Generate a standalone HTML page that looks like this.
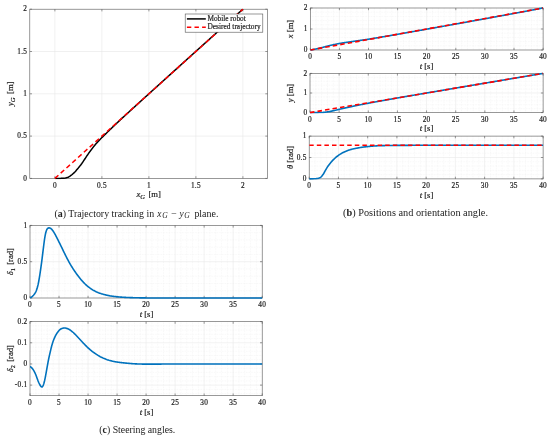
<!DOCTYPE html>
<html lang="en"><head><meta charset="utf-8"><title>Figure</title>
<style>html,body{margin:0;padding:0;background:#fff}svg{display:block}text{font-family:"Liberation Serif","DejaVu Serif",serif;fill:#1a1a1a;stroke:#1a1a1a;stroke-width:0.18px}text.cap{stroke:none;fill:#222}</style>
</head><body>
<svg width="550" height="440" viewBox="0 0 550 440">
<rect width="550" height="440" fill="#fff"/>
<defs>
<clipPath id="ca"><rect x="29.80" y="8.30" width="238.20" height="171.00"/></clipPath>
</defs>
<rect x="29.80" y="9.20" width="237.70" height="169.20" fill="#fff"/>
<line x1="54.90" y1="9.20" x2="54.90" y2="178.40" stroke="#e6e6e6" stroke-width="0.6"/>
<line x1="101.90" y1="9.20" x2="101.90" y2="178.40" stroke="#e6e6e6" stroke-width="0.6"/>
<line x1="148.90" y1="9.20" x2="148.90" y2="178.40" stroke="#e6e6e6" stroke-width="0.6"/>
<line x1="195.90" y1="9.20" x2="195.90" y2="178.40" stroke="#e6e6e6" stroke-width="0.6"/>
<line x1="242.90" y1="9.20" x2="242.90" y2="178.40" stroke="#e6e6e6" stroke-width="0.6"/>
<line x1="29.80" y1="136.10" x2="267.50" y2="136.10" stroke="#e6e6e6" stroke-width="0.6"/>
<line x1="29.80" y1="93.80" x2="267.50" y2="93.80" stroke="#e6e6e6" stroke-width="0.6"/>
<line x1="29.80" y1="51.50" x2="267.50" y2="51.50" stroke="#e6e6e6" stroke-width="0.6"/>
<text transform="translate(54.90,187.80) scale(1,1)" font-size="7.3" letter-spacing="0.25" text-anchor="middle">0</text>
<text transform="translate(101.90,187.80) scale(1,1)" font-size="7.3" letter-spacing="0.25" text-anchor="middle">0.5</text>
<text transform="translate(148.90,187.80) scale(1,1)" font-size="7.3" letter-spacing="0.25" text-anchor="middle">1</text>
<text transform="translate(195.90,187.80) scale(1,1)" font-size="7.3" letter-spacing="0.25" text-anchor="middle">1.5</text>
<text transform="translate(242.90,187.80) scale(1,1)" font-size="7.3" letter-spacing="0.25" text-anchor="middle">2</text>
<text transform="translate(27.20,180.60) scale(1,1)" font-size="7.3" letter-spacing="0.25" text-anchor="end">0</text>
<text transform="translate(27.20,138.30) scale(1,1)" font-size="7.3" letter-spacing="0.25" text-anchor="end">0.5</text>
<text transform="translate(27.20,96.00) scale(1,1)" font-size="7.3" letter-spacing="0.25" text-anchor="end">1</text>
<text transform="translate(27.20,53.70) scale(1,1)" font-size="7.3" letter-spacing="0.25" text-anchor="end">1.5</text>
<text transform="translate(27.20,11.40) scale(1,1)" font-size="7.3" letter-spacing="0.25" text-anchor="end">2</text>
<text x="148.65" y="197.40" font-size="8.6" text-anchor="middle"><tspan font-style="italic">x</tspan><tspan font-style="italic" font-size="6.6" dy="1.6">G</tspan><tspan dy="-1.6" font-size="6.6">&#8201;</tspan> [m]</text>
<text transform="translate(13.20,93.80) rotate(-90)" font-size="8.6" text-anchor="middle"><tspan font-style="italic">y</tspan><tspan font-style="italic" font-size="6.6" dy="1.6">G</tspan><tspan dy="-1.6" font-size="6.6">&#8201;</tspan> [m]</text>
<line x1="54.90" y1="178.40" x2="54.90" y2="176.20" stroke="#555" stroke-width="0.6"/>
<line x1="54.90" y1="9.20" x2="54.90" y2="11.40" stroke="#555" stroke-width="0.6"/>
<line x1="101.90" y1="178.40" x2="101.90" y2="176.20" stroke="#555" stroke-width="0.6"/>
<line x1="101.90" y1="9.20" x2="101.90" y2="11.40" stroke="#555" stroke-width="0.6"/>
<line x1="148.90" y1="178.40" x2="148.90" y2="176.20" stroke="#555" stroke-width="0.6"/>
<line x1="148.90" y1="9.20" x2="148.90" y2="11.40" stroke="#555" stroke-width="0.6"/>
<line x1="195.90" y1="178.40" x2="195.90" y2="176.20" stroke="#555" stroke-width="0.6"/>
<line x1="195.90" y1="9.20" x2="195.90" y2="11.40" stroke="#555" stroke-width="0.6"/>
<line x1="242.90" y1="178.40" x2="242.90" y2="176.20" stroke="#555" stroke-width="0.6"/>
<line x1="242.90" y1="9.20" x2="242.90" y2="11.40" stroke="#555" stroke-width="0.6"/>
<line x1="29.80" y1="178.40" x2="32.00" y2="178.40" stroke="#555" stroke-width="0.6"/>
<line x1="267.50" y1="178.40" x2="265.30" y2="178.40" stroke="#555" stroke-width="0.6"/>
<line x1="29.80" y1="136.10" x2="32.00" y2="136.10" stroke="#555" stroke-width="0.6"/>
<line x1="267.50" y1="136.10" x2="265.30" y2="136.10" stroke="#555" stroke-width="0.6"/>
<line x1="29.80" y1="93.80" x2="32.00" y2="93.80" stroke="#555" stroke-width="0.6"/>
<line x1="267.50" y1="93.80" x2="265.30" y2="93.80" stroke="#555" stroke-width="0.6"/>
<line x1="29.80" y1="51.50" x2="32.00" y2="51.50" stroke="#555" stroke-width="0.6"/>
<line x1="267.50" y1="51.50" x2="265.30" y2="51.50" stroke="#555" stroke-width="0.6"/>
<line x1="29.80" y1="9.20" x2="32.00" y2="9.20" stroke="#555" stroke-width="0.6"/>
<line x1="267.50" y1="9.20" x2="265.30" y2="9.20" stroke="#555" stroke-width="0.6"/>
<rect x="29.80" y="9.20" width="237.70" height="169.20" fill="none" stroke="#555" stroke-width="0.6"/>
<g clip-path="url(#ca)">
<polyline points="54.90,178.40 55.37,178.40 55.84,178.40 56.31,178.40 56.78,178.40 57.25,178.40 57.72,178.40 58.19,178.40 58.66,178.40 59.13,178.40 59.60,178.39 60.07,178.39 60.54,178.38 61.01,178.36 61.48,178.35 61.95,178.33 62.42,178.32 62.89,178.29 63.36,178.26 63.83,178.22 64.30,178.18 64.77,178.12 65.24,178.06 65.71,177.98 66.18,177.87 66.65,177.73 67.12,177.58 67.59,177.40 68.06,177.22 68.53,177.00 69.00,176.74 69.47,176.44 69.94,176.12 70.41,175.78 70.88,175.44 71.35,175.09 71.82,174.73 72.29,174.34 72.76,173.94 73.23,173.53 73.70,173.09 74.17,172.65 74.64,172.18 75.11,171.69 75.58,171.17 76.05,170.64 76.52,170.09 76.99,169.54 77.46,168.98 77.93,168.42 78.40,167.86 78.87,167.29 79.34,166.72 79.81,166.14 80.28,165.54 80.75,164.94 81.22,164.31 81.69,163.68 82.16,163.01 82.63,162.32 83.10,161.62 83.57,160.91 84.04,160.19 84.51,159.48 84.98,158.77 85.45,158.07 85.92,157.36 86.39,156.66 86.86,155.95 87.33,155.24 87.80,154.55 88.27,153.86 88.74,153.19 89.21,152.53 89.68,151.88 90.15,151.23 90.62,150.59 91.09,149.96 91.56,149.34 92.03,148.72 92.50,148.11 92.97,147.51 93.44,146.91 93.91,146.32 94.38,145.74 94.85,145.16 95.32,144.60 95.79,144.04 96.26,143.50 96.73,142.97 97.20,142.44 97.67,141.93 98.14,141.42 98.61,140.92 99.08,140.42 99.55,139.93 100.02,139.45 100.49,138.97 100.96,138.50 101.43,138.04 101.90,137.57 102.37,137.11 102.84,136.65 103.31,136.19 103.78,135.73 104.25,135.27 104.72,134.80 105.19,134.34 105.66,133.88 106.13,133.42 106.60,132.96 107.07,132.50 107.54,132.04 108.01,131.58 108.48,131.12 108.95,130.67 109.42,130.21 109.89,129.76 110.36,129.31 110.83,128.85 111.30,128.40 111.77,127.95 112.24,127.50 112.71,127.05 113.18,126.60 113.65,126.15 114.12,125.70 114.59,125.25 115.06,124.81 115.53,124.36 116.00,123.92 116.47,123.47 116.94,123.03 117.41,122.59 117.88,122.15 118.35,121.71 118.82,121.27 119.29,120.83 119.76,120.39 120.23,119.95 120.70,119.52 121.17,119.08 121.64,118.65 122.11,118.21 122.58,117.78 123.05,117.35 123.52,116.91 123.99,116.48 124.46,116.05 124.93,115.62 125.40,115.19 125.87,114.76 126.34,114.33 126.81,113.90 127.28,113.47 127.75,113.04 128.22,112.61 128.69,112.18 129.16,111.75 129.63,111.32 130.10,110.89 130.57,110.46 131.04,110.03 131.51,109.60 131.98,109.17 132.45,108.75 132.92,108.32 133.39,107.89 133.86,107.47 134.33,107.04 134.80,106.61 135.27,106.18 135.74,105.76 136.21,105.33 136.68,104.91 137.15,104.48 137.62,104.05 138.09,103.63 138.56,103.20 139.03,102.77 139.50,102.34 139.97,101.92 140.44,101.49 140.91,101.06 141.38,100.63 141.85,100.21 142.32,99.78 142.79,99.35 143.26,98.92 143.73,98.50 144.20,98.07 144.67,97.64 145.14,97.21 145.61,96.79 146.08,96.36 146.55,95.93 147.02,95.50 147.49,95.08 147.96,94.65 148.43,94.23 148.90,93.80 149.37,93.37 149.84,92.95 150.31,92.52 150.78,92.10 151.25,91.67 151.72,91.25 152.19,90.82 152.66,90.40 153.13,89.97 153.60,89.54 154.07,89.12 154.54,88.69 155.01,88.27 155.48,87.84 155.95,87.42 156.42,86.99 156.89,86.57 157.36,86.14 157.83,85.71 158.30,85.29 158.77,84.86 159.24,84.44 159.71,84.01 160.18,83.59 160.65,83.16 161.12,82.74 161.59,82.31 162.06,81.89 162.53,81.46 163.00,81.04 163.47,80.61 163.94,80.19 164.41,79.76 164.88,79.34 165.35,78.91 165.82,78.49 166.29,78.06 166.76,77.64 167.23,77.21 167.70,76.79 168.17,76.36 168.64,75.94 169.11,75.51 169.58,75.09 170.05,74.66 170.52,74.24 170.99,73.81 171.46,73.39 171.93,72.96 172.40,72.54 172.87,72.11 173.34,71.69 173.81,71.26 174.28,70.84 174.75,70.42 175.22,69.99 175.69,69.57 176.16,69.14 176.63,68.72 177.10,68.29 177.57,67.87 178.04,67.44 178.51,67.02 178.98,66.60 179.45,66.17 179.92,65.75 180.39,65.32 180.86,64.90 181.33,64.47 181.80,64.05 182.27,63.63 182.74,63.20 183.21,62.78 183.68,62.35 184.15,61.93 184.62,61.50 185.09,61.08 185.56,60.66 186.03,60.23 186.50,59.81 186.97,59.39 187.44,58.96 187.91,58.54 188.38,58.11 188.85,57.69 189.32,57.27 189.79,56.84 190.26,56.42 190.73,55.99 191.20,55.57 191.67,55.15 192.14,54.72 192.61,54.30 193.08,53.88 193.55,53.45 194.02,53.03 194.49,52.61 194.96,52.18 195.43,51.76 195.90,51.34 196.37,50.91 196.84,50.49 197.31,50.07 197.78,49.64 198.25,49.22 198.72,48.80 199.19,48.37 199.66,47.95 200.13,47.53 200.60,47.11 201.07,46.68 201.54,46.26 202.01,45.84 202.48,45.41 202.95,44.99 203.42,44.57 203.89,44.15 204.36,43.72 204.83,43.30 205.30,42.88 205.77,42.46 206.24,42.03 206.71,41.61 207.18,41.19 207.65,40.77 208.12,40.34 208.59,39.92 209.06,39.50 209.53,39.08 210.00,38.65 210.47,38.23 210.94,37.81 211.41,37.39 211.88,36.96 212.35,36.54 212.82,36.12 213.29,35.70 213.76,35.28 214.23,34.86 214.70,34.43 215.17,34.01 215.64,33.59 216.11,33.17 216.58,32.75 217.05,32.32 217.52,31.90 217.99,31.48 218.46,31.06 218.93,30.64 219.40,30.22 219.87,29.80 220.34,29.37 220.81,28.95 221.28,28.53 221.75,28.11 222.22,27.69 222.69,27.27 223.16,26.85 223.63,26.43 224.10,26.00 224.57,25.58 225.04,25.16 225.51,24.74 225.98,24.32 226.45,23.90 226.92,23.48 227.39,23.06 227.86,22.64 228.33,22.22 228.80,21.80 229.27,21.38 229.74,20.96 230.21,20.53 230.68,20.11 231.15,19.69 231.62,19.27 232.09,18.85 232.56,18.43 233.03,18.01 233.50,17.59 233.97,17.17 234.44,16.75 234.91,16.33 235.38,15.91 235.85,15.49 236.32,15.07 236.79,14.65 237.26,14.23 237.73,13.81 238.20,13.39 238.67,12.97 239.14,12.55 239.61,12.14 240.08,11.72 240.55,11.30 241.02,10.88 241.49,10.46 241.96,10.04 242.43,9.62 242.90,9.20" fill="none" stroke="#000" stroke-width="1.5" stroke-linejoin="round" />
<polyline points="54.90,178.40 242.90,9.20" fill="none" stroke="#ff0000" stroke-width="1.5" stroke-dasharray="4.7 3.1" stroke-linejoin="round" />
</g>
<rect x="185.2" y="14.0" width="77.60" height="18.20" fill="#fff" stroke="#555" stroke-width="0.6"/>
<line x1="186.9" y1="18.9" x2="205.8" y2="18.9" stroke="#000" stroke-width="1.5"/>
<line x1="186.9" y1="27.2" x2="205.8" y2="27.2" stroke="#ff0000" stroke-width="1.4" stroke-dasharray="4.4 3.2"/>
<text x="207.5" y="20.8" font-size="7.4" textLength="38.2" lengthAdjust="spacingAndGlyphs">Mobile robot</text>
<text x="207.5" y="28.9" font-size="7.4" textLength="53.2" lengthAdjust="spacingAndGlyphs">Desired trajectory</text>
<defs>
<clipPath id="cb1"><rect x="310.30" y="7.10" width="233.30" height="43.80"/></clipPath>
<clipPath id="cb2"><rect x="310.00" y="72.50" width="233.60" height="41.00"/></clipPath>
<clipPath id="cb3"><rect x="309.20" y="135.20" width="234.40" height="44.60"/></clipPath>
<clipPath id="cc1"><rect x="30.00" y="224.50" width="232.70" height="74.40"/></clipPath>
<clipPath id="cc2"><rect x="30.00" y="320.70" width="232.70" height="75.90"/></clipPath>
</defs>
<rect x="310.30" y="8.00" width="232.80" height="42.00" fill="#fff"/>
<line x1="316.12" y1="8.00" x2="316.12" y2="50.00" stroke="#eeeeee" stroke-width="0.5" stroke-dasharray="0.8 0.8"/>
<line x1="321.94" y1="8.00" x2="321.94" y2="50.00" stroke="#eeeeee" stroke-width="0.5" stroke-dasharray="0.8 0.8"/>
<line x1="327.76" y1="8.00" x2="327.76" y2="50.00" stroke="#eeeeee" stroke-width="0.5" stroke-dasharray="0.8 0.8"/>
<line x1="333.58" y1="8.00" x2="333.58" y2="50.00" stroke="#eeeeee" stroke-width="0.5" stroke-dasharray="0.8 0.8"/>
<line x1="345.22" y1="8.00" x2="345.22" y2="50.00" stroke="#eeeeee" stroke-width="0.5" stroke-dasharray="0.8 0.8"/>
<line x1="351.04" y1="8.00" x2="351.04" y2="50.00" stroke="#eeeeee" stroke-width="0.5" stroke-dasharray="0.8 0.8"/>
<line x1="356.86" y1="8.00" x2="356.86" y2="50.00" stroke="#eeeeee" stroke-width="0.5" stroke-dasharray="0.8 0.8"/>
<line x1="362.68" y1="8.00" x2="362.68" y2="50.00" stroke="#eeeeee" stroke-width="0.5" stroke-dasharray="0.8 0.8"/>
<line x1="374.32" y1="8.00" x2="374.32" y2="50.00" stroke="#eeeeee" stroke-width="0.5" stroke-dasharray="0.8 0.8"/>
<line x1="380.14" y1="8.00" x2="380.14" y2="50.00" stroke="#eeeeee" stroke-width="0.5" stroke-dasharray="0.8 0.8"/>
<line x1="385.96" y1="8.00" x2="385.96" y2="50.00" stroke="#eeeeee" stroke-width="0.5" stroke-dasharray="0.8 0.8"/>
<line x1="391.78" y1="8.00" x2="391.78" y2="50.00" stroke="#eeeeee" stroke-width="0.5" stroke-dasharray="0.8 0.8"/>
<line x1="403.42" y1="8.00" x2="403.42" y2="50.00" stroke="#eeeeee" stroke-width="0.5" stroke-dasharray="0.8 0.8"/>
<line x1="409.24" y1="8.00" x2="409.24" y2="50.00" stroke="#eeeeee" stroke-width="0.5" stroke-dasharray="0.8 0.8"/>
<line x1="415.06" y1="8.00" x2="415.06" y2="50.00" stroke="#eeeeee" stroke-width="0.5" stroke-dasharray="0.8 0.8"/>
<line x1="420.88" y1="8.00" x2="420.88" y2="50.00" stroke="#eeeeee" stroke-width="0.5" stroke-dasharray="0.8 0.8"/>
<line x1="432.52" y1="8.00" x2="432.52" y2="50.00" stroke="#eeeeee" stroke-width="0.5" stroke-dasharray="0.8 0.8"/>
<line x1="438.34" y1="8.00" x2="438.34" y2="50.00" stroke="#eeeeee" stroke-width="0.5" stroke-dasharray="0.8 0.8"/>
<line x1="444.16" y1="8.00" x2="444.16" y2="50.00" stroke="#eeeeee" stroke-width="0.5" stroke-dasharray="0.8 0.8"/>
<line x1="449.98" y1="8.00" x2="449.98" y2="50.00" stroke="#eeeeee" stroke-width="0.5" stroke-dasharray="0.8 0.8"/>
<line x1="461.62" y1="8.00" x2="461.62" y2="50.00" stroke="#eeeeee" stroke-width="0.5" stroke-dasharray="0.8 0.8"/>
<line x1="467.44" y1="8.00" x2="467.44" y2="50.00" stroke="#eeeeee" stroke-width="0.5" stroke-dasharray="0.8 0.8"/>
<line x1="473.26" y1="8.00" x2="473.26" y2="50.00" stroke="#eeeeee" stroke-width="0.5" stroke-dasharray="0.8 0.8"/>
<line x1="479.08" y1="8.00" x2="479.08" y2="50.00" stroke="#eeeeee" stroke-width="0.5" stroke-dasharray="0.8 0.8"/>
<line x1="490.72" y1="8.00" x2="490.72" y2="50.00" stroke="#eeeeee" stroke-width="0.5" stroke-dasharray="0.8 0.8"/>
<line x1="496.54" y1="8.00" x2="496.54" y2="50.00" stroke="#eeeeee" stroke-width="0.5" stroke-dasharray="0.8 0.8"/>
<line x1="502.36" y1="8.00" x2="502.36" y2="50.00" stroke="#eeeeee" stroke-width="0.5" stroke-dasharray="0.8 0.8"/>
<line x1="508.18" y1="8.00" x2="508.18" y2="50.00" stroke="#eeeeee" stroke-width="0.5" stroke-dasharray="0.8 0.8"/>
<line x1="519.82" y1="8.00" x2="519.82" y2="50.00" stroke="#eeeeee" stroke-width="0.5" stroke-dasharray="0.8 0.8"/>
<line x1="525.64" y1="8.00" x2="525.64" y2="50.00" stroke="#eeeeee" stroke-width="0.5" stroke-dasharray="0.8 0.8"/>
<line x1="531.46" y1="8.00" x2="531.46" y2="50.00" stroke="#eeeeee" stroke-width="0.5" stroke-dasharray="0.8 0.8"/>
<line x1="537.28" y1="8.00" x2="537.28" y2="50.00" stroke="#eeeeee" stroke-width="0.5" stroke-dasharray="0.8 0.8"/>
<line x1="310.30" y1="45.80" x2="543.10" y2="45.80" stroke="#eeeeee" stroke-width="0.5" stroke-dasharray="0.8 0.8"/>
<line x1="310.30" y1="41.60" x2="543.10" y2="41.60" stroke="#eeeeee" stroke-width="0.5" stroke-dasharray="0.8 0.8"/>
<line x1="310.30" y1="37.40" x2="543.10" y2="37.40" stroke="#eeeeee" stroke-width="0.5" stroke-dasharray="0.8 0.8"/>
<line x1="310.30" y1="33.20" x2="543.10" y2="33.20" stroke="#eeeeee" stroke-width="0.5" stroke-dasharray="0.8 0.8"/>
<line x1="310.30" y1="24.80" x2="543.10" y2="24.80" stroke="#eeeeee" stroke-width="0.5" stroke-dasharray="0.8 0.8"/>
<line x1="310.30" y1="20.60" x2="543.10" y2="20.60" stroke="#eeeeee" stroke-width="0.5" stroke-dasharray="0.8 0.8"/>
<line x1="310.30" y1="16.40" x2="543.10" y2="16.40" stroke="#eeeeee" stroke-width="0.5" stroke-dasharray="0.8 0.8"/>
<line x1="310.30" y1="12.20" x2="543.10" y2="12.20" stroke="#eeeeee" stroke-width="0.5" stroke-dasharray="0.8 0.8"/>
<line x1="339.40" y1="8.00" x2="339.40" y2="50.00" stroke="#eaeaea" stroke-width="0.6"/>
<line x1="368.50" y1="8.00" x2="368.50" y2="50.00" stroke="#eaeaea" stroke-width="0.6"/>
<line x1="397.60" y1="8.00" x2="397.60" y2="50.00" stroke="#eaeaea" stroke-width="0.6"/>
<line x1="426.70" y1="8.00" x2="426.70" y2="50.00" stroke="#eaeaea" stroke-width="0.6"/>
<line x1="455.80" y1="8.00" x2="455.80" y2="50.00" stroke="#eaeaea" stroke-width="0.6"/>
<line x1="484.90" y1="8.00" x2="484.90" y2="50.00" stroke="#eaeaea" stroke-width="0.6"/>
<line x1="514.00" y1="8.00" x2="514.00" y2="50.00" stroke="#eaeaea" stroke-width="0.6"/>
<line x1="310.30" y1="29.00" x2="543.10" y2="29.00" stroke="#eaeaea" stroke-width="0.6"/>
<text transform="translate(310.30,59.40) scale(1,1)" font-size="7.3" letter-spacing="0.25" text-anchor="middle">0</text>
<text transform="translate(339.40,59.40) scale(1,1)" font-size="7.3" letter-spacing="0.25" text-anchor="middle">5</text>
<text transform="translate(368.50,59.40) scale(1,1)" font-size="7.3" letter-spacing="0.25" text-anchor="middle">10</text>
<text transform="translate(397.60,59.40) scale(1,1)" font-size="7.3" letter-spacing="0.25" text-anchor="middle">15</text>
<text transform="translate(426.70,59.40) scale(1,1)" font-size="7.3" letter-spacing="0.25" text-anchor="middle">20</text>
<text transform="translate(455.80,59.40) scale(1,1)" font-size="7.3" letter-spacing="0.25" text-anchor="middle">25</text>
<text transform="translate(484.90,59.40) scale(1,1)" font-size="7.3" letter-spacing="0.25" text-anchor="middle">30</text>
<text transform="translate(514.00,59.40) scale(1,1)" font-size="7.3" letter-spacing="0.25" text-anchor="middle">35</text>
<text transform="translate(543.10,59.40) scale(1,1)" font-size="7.3" letter-spacing="0.25" text-anchor="middle">40</text>
<text transform="translate(307.70,52.20) scale(1,1)" font-size="7.3" letter-spacing="0.25" text-anchor="end">0</text>
<text transform="translate(307.70,31.20) scale(1,1)" font-size="7.3" letter-spacing="0.25" text-anchor="end">1</text>
<text transform="translate(307.70,10.20) scale(1,1)" font-size="7.3" letter-spacing="0.25" text-anchor="end">2</text>
<text x="426.50" y="68.80" font-size="8.6" text-anchor="middle"><tspan font-style="italic">t</tspan> [s]</text>
<text transform="translate(293.40,29.00) rotate(-90)" font-size="8.6" text-anchor="middle"><tspan font-style="italic">x</tspan> [m]</text>
<line x1="310.30" y1="50.00" x2="310.30" y2="47.80" stroke="#555" stroke-width="0.6"/>
<line x1="310.30" y1="8.00" x2="310.30" y2="10.20" stroke="#555" stroke-width="0.6"/>
<line x1="339.40" y1="50.00" x2="339.40" y2="47.80" stroke="#555" stroke-width="0.6"/>
<line x1="339.40" y1="8.00" x2="339.40" y2="10.20" stroke="#555" stroke-width="0.6"/>
<line x1="368.50" y1="50.00" x2="368.50" y2="47.80" stroke="#555" stroke-width="0.6"/>
<line x1="368.50" y1="8.00" x2="368.50" y2="10.20" stroke="#555" stroke-width="0.6"/>
<line x1="397.60" y1="50.00" x2="397.60" y2="47.80" stroke="#555" stroke-width="0.6"/>
<line x1="397.60" y1="8.00" x2="397.60" y2="10.20" stroke="#555" stroke-width="0.6"/>
<line x1="426.70" y1="50.00" x2="426.70" y2="47.80" stroke="#555" stroke-width="0.6"/>
<line x1="426.70" y1="8.00" x2="426.70" y2="10.20" stroke="#555" stroke-width="0.6"/>
<line x1="455.80" y1="50.00" x2="455.80" y2="47.80" stroke="#555" stroke-width="0.6"/>
<line x1="455.80" y1="8.00" x2="455.80" y2="10.20" stroke="#555" stroke-width="0.6"/>
<line x1="484.90" y1="50.00" x2="484.90" y2="47.80" stroke="#555" stroke-width="0.6"/>
<line x1="484.90" y1="8.00" x2="484.90" y2="10.20" stroke="#555" stroke-width="0.6"/>
<line x1="514.00" y1="50.00" x2="514.00" y2="47.80" stroke="#555" stroke-width="0.6"/>
<line x1="514.00" y1="8.00" x2="514.00" y2="10.20" stroke="#555" stroke-width="0.6"/>
<line x1="543.10" y1="50.00" x2="543.10" y2="47.80" stroke="#555" stroke-width="0.6"/>
<line x1="543.10" y1="8.00" x2="543.10" y2="10.20" stroke="#555" stroke-width="0.6"/>
<line x1="310.30" y1="50.00" x2="312.50" y2="50.00" stroke="#555" stroke-width="0.6"/>
<line x1="543.10" y1="50.00" x2="540.90" y2="50.00" stroke="#555" stroke-width="0.6"/>
<line x1="310.30" y1="29.00" x2="312.50" y2="29.00" stroke="#555" stroke-width="0.6"/>
<line x1="543.10" y1="29.00" x2="540.90" y2="29.00" stroke="#555" stroke-width="0.6"/>
<line x1="310.30" y1="8.00" x2="312.50" y2="8.00" stroke="#555" stroke-width="0.6"/>
<line x1="543.10" y1="8.00" x2="540.90" y2="8.00" stroke="#555" stroke-width="0.6"/>
<rect x="310.30" y="8.00" width="232.80" height="42.00" fill="none" stroke="#555" stroke-width="0.6"/>
<g clip-path="url(#cb1)">
<polyline points="310.30,50.00 310.88,49.94 311.46,49.88 312.05,49.80 312.63,49.59 313.21,49.49 313.79,49.39 314.37,49.28 314.96,49.17 315.54,49.05 316.12,48.93 316.70,48.81 317.28,48.69 317.87,48.56 318.45,48.42 319.03,48.29 319.61,48.15 320.19,48.01 320.78,47.87 321.36,47.72 321.94,47.57 322.52,47.42 323.10,47.27 323.69,47.11 324.27,46.96 324.85,46.80 325.43,46.64 326.01,46.48 326.60,46.33 327.18,46.17 327.76,46.02 328.34,45.88 328.92,45.73 329.51,45.59 330.09,45.45 330.67,45.31 331.25,45.18 331.83,45.04 332.42,44.91 333.00,44.78 333.58,44.65 334.16,44.53 334.74,44.41 335.33,44.29 335.91,44.17 336.49,44.05 337.07,43.94 337.65,43.82 338.24,43.71 338.82,43.61 339.40,43.50 339.98,43.40 340.56,43.30 341.15,43.20 341.73,43.10 342.31,43.01 342.89,42.91 343.47,42.82 344.06,42.73 344.64,42.64 345.22,42.55 345.80,42.46 346.38,42.37 346.97,42.28 347.55,42.20 348.13,42.11 348.71,42.03 349.29,41.94 349.88,41.86 350.46,41.78 351.04,41.69 351.62,41.61 352.20,41.53 352.79,41.44 353.37,41.36 353.95,41.28 354.53,41.20 355.11,41.11 355.70,41.03 356.28,40.95 356.86,40.86 357.44,40.78 358.02,40.70 358.61,40.62 359.19,40.53 359.77,40.45 360.35,40.37 360.93,40.28 361.52,40.20 362.10,40.12 362.68,40.04 363.26,39.95 363.84,39.87 364.43,39.79 365.01,39.70 365.59,39.62 366.17,39.53 366.75,39.44 367.34,39.36 367.92,39.27 368.50,39.18 369.08,39.09 369.66,39.00 370.25,38.91 370.83,38.82 371.41,38.73 371.99,38.63 372.57,38.54 373.16,38.45 373.74,38.35 374.32,38.26 374.90,38.16 375.48,38.07 376.07,37.97 376.65,37.88 377.23,37.78 377.81,37.68 378.39,37.59 378.98,37.49 379.56,37.39 380.14,37.29 380.72,37.20 381.30,37.10 381.89,37.00 382.47,36.90 383.05,36.80 383.63,36.71 384.21,36.61 384.80,36.51 385.38,36.41 385.96,36.31 386.54,36.21 387.12,36.11 387.71,36.01 388.29,35.91 388.87,35.81 389.45,35.70 390.03,35.60 390.62,35.50 391.20,35.40 391.78,35.30 392.36,35.20 392.94,35.10 393.53,35.00 394.11,34.89 394.69,34.79 395.27,34.69 395.85,34.59 396.44,34.49 397.02,34.39 397.60,34.28 398.18,34.18 398.76,34.08 399.35,33.98 399.93,33.88 400.51,33.77 401.09,33.67 401.67,33.57 402.26,33.47 402.84,33.37 403.42,33.27 404.00,33.16 404.58,33.06 405.17,32.96 405.75,32.86 406.33,32.76 406.91,32.65 407.49,32.55 408.08,32.45 408.66,32.35 409.24,32.25 409.82,32.14 410.40,32.04 410.99,31.94 411.57,31.84 412.15,31.73 412.73,31.63 413.31,31.53 413.90,31.43 414.48,31.33 415.06,31.22 415.64,31.12 416.22,31.02 416.81,30.92 417.39,30.81 417.97,30.71 418.55,30.61 419.13,30.51 419.72,30.40 420.30,30.30 420.88,30.20 421.46,30.10 422.04,29.99 422.63,29.89 423.21,29.79 423.79,29.69 424.37,29.58 424.95,29.48 425.54,29.38 426.12,29.28 426.70,29.17 427.28,29.07 427.86,28.97 428.45,28.87 429.03,28.76 429.61,28.66 430.19,28.56 430.77,28.45 431.36,28.35 431.94,28.25 432.52,28.15 433.10,28.04 433.68,27.94 434.27,27.84 434.85,27.73 435.43,27.63 436.01,27.53 436.59,27.42 437.18,27.32 437.76,27.22 438.34,27.11 438.92,27.01 439.50,26.91 440.09,26.81 440.67,26.70 441.25,26.60 441.83,26.50 442.41,26.39 443.00,26.29 443.58,26.18 444.16,26.08 444.74,25.98 445.32,25.87 445.91,25.77 446.49,25.67 447.07,25.56 447.65,25.46 448.23,25.36 448.82,25.25 449.40,25.15 449.98,25.05 450.56,24.94 451.14,24.84 451.73,24.73 452.31,24.63 452.89,24.53 453.47,24.42 454.05,24.32 454.64,24.21 455.22,24.11 455.80,24.01 456.38,23.90 456.96,23.80 457.55,23.69 458.13,23.59 458.71,23.49 459.29,23.38 459.87,23.28 460.46,23.17 461.04,23.07 461.62,22.96 462.20,22.86 462.78,22.76 463.37,22.65 463.95,22.55 464.53,22.44 465.11,22.34 465.69,22.23 466.28,22.13 466.86,22.02 467.44,21.92 468.02,21.82 468.60,21.71 469.19,21.61 469.77,21.50 470.35,21.40 470.93,21.29 471.51,21.19 472.10,21.08 472.68,20.98 473.26,20.87 473.84,20.77 474.42,20.66 475.01,20.56 475.59,20.45 476.17,20.35 476.75,20.24 477.33,20.14 477.92,20.03 478.50,19.93 479.08,19.82 479.66,19.72 480.24,19.61 480.83,19.50 481.41,19.40 481.99,19.29 482.57,19.19 483.15,19.08 483.74,18.98 484.32,18.87 484.90,18.77 485.48,18.66 486.06,18.55 486.65,18.45 487.23,18.34 487.81,18.24 488.39,18.13 488.97,18.03 489.56,17.92 490.14,17.81 490.72,17.71 491.30,17.60 491.88,17.50 492.47,17.39 493.05,17.28 493.63,17.18 494.21,17.07 494.79,16.96 495.38,16.86 495.96,16.75 496.54,16.65 497.12,16.54 497.70,16.43 498.29,16.33 498.87,16.22 499.45,16.11 500.03,16.01 500.61,15.90 501.20,15.79 501.78,15.69 502.36,15.58 502.94,15.47 503.52,15.37 504.11,15.26 504.69,15.15 505.27,15.04 505.85,14.94 506.43,14.83 507.02,14.72 507.60,14.62 508.18,14.51 508.76,14.40 509.34,14.30 509.93,14.19 510.51,14.08 511.09,13.97 511.67,13.87 512.25,13.76 512.84,13.65 513.42,13.54 514.00,13.44 514.58,13.33 515.16,13.22 515.75,13.11 516.33,13.00 516.91,12.90 517.49,12.79 518.07,12.68 518.66,12.57 519.24,12.47 519.82,12.36 520.40,12.25 520.98,12.14 521.57,12.03 522.15,11.92 522.73,11.82 523.31,11.71 523.89,11.60 524.48,11.49 525.06,11.38 525.64,11.27 526.22,11.17 526.80,11.06 527.39,10.95 527.97,10.84 528.55,10.73 529.13,10.62 529.71,10.51 530.30,10.41 530.88,10.30 531.46,10.19 532.04,10.08 532.62,9.97 533.21,9.86 533.79,9.75 534.37,9.64 534.95,9.53 535.53,9.42 536.12,9.31 536.70,9.21 537.28,9.10 537.86,8.95 538.44,8.84 539.03,8.73 539.61,8.63 540.19,8.52 540.77,8.42 541.35,8.31 541.94,8.21 542.52,8.10 543.10,8.00" fill="none" stroke="#0072bd" stroke-width="1.6" stroke-linejoin="round" />
<polyline points="310.30,50.00 543.10,8.00" fill="none" stroke="#ff0000" stroke-width="1.6" stroke-dasharray="4.5 3.1" stroke-linejoin="round" />
</g>
<rect x="310.00" y="73.40" width="233.10" height="39.20" fill="#fff"/>
<line x1="315.83" y1="73.40" x2="315.83" y2="112.60" stroke="#eeeeee" stroke-width="0.5" stroke-dasharray="0.8 0.8"/>
<line x1="321.65" y1="73.40" x2="321.65" y2="112.60" stroke="#eeeeee" stroke-width="0.5" stroke-dasharray="0.8 0.8"/>
<line x1="327.48" y1="73.40" x2="327.48" y2="112.60" stroke="#eeeeee" stroke-width="0.5" stroke-dasharray="0.8 0.8"/>
<line x1="333.31" y1="73.40" x2="333.31" y2="112.60" stroke="#eeeeee" stroke-width="0.5" stroke-dasharray="0.8 0.8"/>
<line x1="344.97" y1="73.40" x2="344.97" y2="112.60" stroke="#eeeeee" stroke-width="0.5" stroke-dasharray="0.8 0.8"/>
<line x1="350.79" y1="73.40" x2="350.79" y2="112.60" stroke="#eeeeee" stroke-width="0.5" stroke-dasharray="0.8 0.8"/>
<line x1="356.62" y1="73.40" x2="356.62" y2="112.60" stroke="#eeeeee" stroke-width="0.5" stroke-dasharray="0.8 0.8"/>
<line x1="362.45" y1="73.40" x2="362.45" y2="112.60" stroke="#eeeeee" stroke-width="0.5" stroke-dasharray="0.8 0.8"/>
<line x1="374.10" y1="73.40" x2="374.10" y2="112.60" stroke="#eeeeee" stroke-width="0.5" stroke-dasharray="0.8 0.8"/>
<line x1="379.93" y1="73.40" x2="379.93" y2="112.60" stroke="#eeeeee" stroke-width="0.5" stroke-dasharray="0.8 0.8"/>
<line x1="385.76" y1="73.40" x2="385.76" y2="112.60" stroke="#eeeeee" stroke-width="0.5" stroke-dasharray="0.8 0.8"/>
<line x1="391.59" y1="73.40" x2="391.59" y2="112.60" stroke="#eeeeee" stroke-width="0.5" stroke-dasharray="0.8 0.8"/>
<line x1="403.24" y1="73.40" x2="403.24" y2="112.60" stroke="#eeeeee" stroke-width="0.5" stroke-dasharray="0.8 0.8"/>
<line x1="409.07" y1="73.40" x2="409.07" y2="112.60" stroke="#eeeeee" stroke-width="0.5" stroke-dasharray="0.8 0.8"/>
<line x1="414.89" y1="73.40" x2="414.89" y2="112.60" stroke="#eeeeee" stroke-width="0.5" stroke-dasharray="0.8 0.8"/>
<line x1="420.72" y1="73.40" x2="420.72" y2="112.60" stroke="#eeeeee" stroke-width="0.5" stroke-dasharray="0.8 0.8"/>
<line x1="432.38" y1="73.40" x2="432.38" y2="112.60" stroke="#eeeeee" stroke-width="0.5" stroke-dasharray="0.8 0.8"/>
<line x1="438.21" y1="73.40" x2="438.21" y2="112.60" stroke="#eeeeee" stroke-width="0.5" stroke-dasharray="0.8 0.8"/>
<line x1="444.03" y1="73.40" x2="444.03" y2="112.60" stroke="#eeeeee" stroke-width="0.5" stroke-dasharray="0.8 0.8"/>
<line x1="449.86" y1="73.40" x2="449.86" y2="112.60" stroke="#eeeeee" stroke-width="0.5" stroke-dasharray="0.8 0.8"/>
<line x1="461.51" y1="73.40" x2="461.51" y2="112.60" stroke="#eeeeee" stroke-width="0.5" stroke-dasharray="0.8 0.8"/>
<line x1="467.34" y1="73.40" x2="467.34" y2="112.60" stroke="#eeeeee" stroke-width="0.5" stroke-dasharray="0.8 0.8"/>
<line x1="473.17" y1="73.40" x2="473.17" y2="112.60" stroke="#eeeeee" stroke-width="0.5" stroke-dasharray="0.8 0.8"/>
<line x1="479.00" y1="73.40" x2="479.00" y2="112.60" stroke="#eeeeee" stroke-width="0.5" stroke-dasharray="0.8 0.8"/>
<line x1="490.65" y1="73.40" x2="490.65" y2="112.60" stroke="#eeeeee" stroke-width="0.5" stroke-dasharray="0.8 0.8"/>
<line x1="496.48" y1="73.40" x2="496.48" y2="112.60" stroke="#eeeeee" stroke-width="0.5" stroke-dasharray="0.8 0.8"/>
<line x1="502.31" y1="73.40" x2="502.31" y2="112.60" stroke="#eeeeee" stroke-width="0.5" stroke-dasharray="0.8 0.8"/>
<line x1="508.13" y1="73.40" x2="508.13" y2="112.60" stroke="#eeeeee" stroke-width="0.5" stroke-dasharray="0.8 0.8"/>
<line x1="519.79" y1="73.40" x2="519.79" y2="112.60" stroke="#eeeeee" stroke-width="0.5" stroke-dasharray="0.8 0.8"/>
<line x1="525.62" y1="73.40" x2="525.62" y2="112.60" stroke="#eeeeee" stroke-width="0.5" stroke-dasharray="0.8 0.8"/>
<line x1="531.45" y1="73.40" x2="531.45" y2="112.60" stroke="#eeeeee" stroke-width="0.5" stroke-dasharray="0.8 0.8"/>
<line x1="537.27" y1="73.40" x2="537.27" y2="112.60" stroke="#eeeeee" stroke-width="0.5" stroke-dasharray="0.8 0.8"/>
<line x1="310.00" y1="108.68" x2="543.10" y2="108.68" stroke="#eeeeee" stroke-width="0.5" stroke-dasharray="0.8 0.8"/>
<line x1="310.00" y1="104.76" x2="543.10" y2="104.76" stroke="#eeeeee" stroke-width="0.5" stroke-dasharray="0.8 0.8"/>
<line x1="310.00" y1="100.84" x2="543.10" y2="100.84" stroke="#eeeeee" stroke-width="0.5" stroke-dasharray="0.8 0.8"/>
<line x1="310.00" y1="96.92" x2="543.10" y2="96.92" stroke="#eeeeee" stroke-width="0.5" stroke-dasharray="0.8 0.8"/>
<line x1="310.00" y1="89.08" x2="543.10" y2="89.08" stroke="#eeeeee" stroke-width="0.5" stroke-dasharray="0.8 0.8"/>
<line x1="310.00" y1="85.16" x2="543.10" y2="85.16" stroke="#eeeeee" stroke-width="0.5" stroke-dasharray="0.8 0.8"/>
<line x1="310.00" y1="81.24" x2="543.10" y2="81.24" stroke="#eeeeee" stroke-width="0.5" stroke-dasharray="0.8 0.8"/>
<line x1="310.00" y1="77.32" x2="543.10" y2="77.32" stroke="#eeeeee" stroke-width="0.5" stroke-dasharray="0.8 0.8"/>
<line x1="339.14" y1="73.40" x2="339.14" y2="112.60" stroke="#eaeaea" stroke-width="0.6"/>
<line x1="368.27" y1="73.40" x2="368.27" y2="112.60" stroke="#eaeaea" stroke-width="0.6"/>
<line x1="397.41" y1="73.40" x2="397.41" y2="112.60" stroke="#eaeaea" stroke-width="0.6"/>
<line x1="426.55" y1="73.40" x2="426.55" y2="112.60" stroke="#eaeaea" stroke-width="0.6"/>
<line x1="455.69" y1="73.40" x2="455.69" y2="112.60" stroke="#eaeaea" stroke-width="0.6"/>
<line x1="484.83" y1="73.40" x2="484.83" y2="112.60" stroke="#eaeaea" stroke-width="0.6"/>
<line x1="513.96" y1="73.40" x2="513.96" y2="112.60" stroke="#eaeaea" stroke-width="0.6"/>
<line x1="310.00" y1="93.00" x2="543.10" y2="93.00" stroke="#eaeaea" stroke-width="0.6"/>
<text transform="translate(310.00,122.00) scale(1,1)" font-size="7.3" letter-spacing="0.25" text-anchor="middle">0</text>
<text transform="translate(339.14,122.00) scale(1,1)" font-size="7.3" letter-spacing="0.25" text-anchor="middle">5</text>
<text transform="translate(368.27,122.00) scale(1,1)" font-size="7.3" letter-spacing="0.25" text-anchor="middle">10</text>
<text transform="translate(397.41,122.00) scale(1,1)" font-size="7.3" letter-spacing="0.25" text-anchor="middle">15</text>
<text transform="translate(426.55,122.00) scale(1,1)" font-size="7.3" letter-spacing="0.25" text-anchor="middle">20</text>
<text transform="translate(455.69,122.00) scale(1,1)" font-size="7.3" letter-spacing="0.25" text-anchor="middle">25</text>
<text transform="translate(484.83,122.00) scale(1,1)" font-size="7.3" letter-spacing="0.25" text-anchor="middle">30</text>
<text transform="translate(513.96,122.00) scale(1,1)" font-size="7.3" letter-spacing="0.25" text-anchor="middle">35</text>
<text transform="translate(543.10,122.00) scale(1,1)" font-size="7.3" letter-spacing="0.25" text-anchor="middle">40</text>
<text transform="translate(307.40,114.80) scale(1,1)" font-size="7.3" letter-spacing="0.25" text-anchor="end">0</text>
<text transform="translate(307.40,95.20) scale(1,1)" font-size="7.3" letter-spacing="0.25" text-anchor="end">1</text>
<text transform="translate(307.40,75.60) scale(1,1)" font-size="7.3" letter-spacing="0.25" text-anchor="end">2</text>
<text x="426.50" y="131.40" font-size="8.6" text-anchor="middle"><tspan font-style="italic">t</tspan> [s]</text>
<text transform="translate(293.40,93.00) rotate(-90)" font-size="8.6" text-anchor="middle"><tspan font-style="italic">y</tspan> [m]</text>
<line x1="310.00" y1="112.60" x2="310.00" y2="110.40" stroke="#555" stroke-width="0.6"/>
<line x1="310.00" y1="73.40" x2="310.00" y2="75.60" stroke="#555" stroke-width="0.6"/>
<line x1="339.14" y1="112.60" x2="339.14" y2="110.40" stroke="#555" stroke-width="0.6"/>
<line x1="339.14" y1="73.40" x2="339.14" y2="75.60" stroke="#555" stroke-width="0.6"/>
<line x1="368.27" y1="112.60" x2="368.27" y2="110.40" stroke="#555" stroke-width="0.6"/>
<line x1="368.27" y1="73.40" x2="368.27" y2="75.60" stroke="#555" stroke-width="0.6"/>
<line x1="397.41" y1="112.60" x2="397.41" y2="110.40" stroke="#555" stroke-width="0.6"/>
<line x1="397.41" y1="73.40" x2="397.41" y2="75.60" stroke="#555" stroke-width="0.6"/>
<line x1="426.55" y1="112.60" x2="426.55" y2="110.40" stroke="#555" stroke-width="0.6"/>
<line x1="426.55" y1="73.40" x2="426.55" y2="75.60" stroke="#555" stroke-width="0.6"/>
<line x1="455.69" y1="112.60" x2="455.69" y2="110.40" stroke="#555" stroke-width="0.6"/>
<line x1="455.69" y1="73.40" x2="455.69" y2="75.60" stroke="#555" stroke-width="0.6"/>
<line x1="484.83" y1="112.60" x2="484.83" y2="110.40" stroke="#555" stroke-width="0.6"/>
<line x1="484.83" y1="73.40" x2="484.83" y2="75.60" stroke="#555" stroke-width="0.6"/>
<line x1="513.96" y1="112.60" x2="513.96" y2="110.40" stroke="#555" stroke-width="0.6"/>
<line x1="513.96" y1="73.40" x2="513.96" y2="75.60" stroke="#555" stroke-width="0.6"/>
<line x1="543.10" y1="112.60" x2="543.10" y2="110.40" stroke="#555" stroke-width="0.6"/>
<line x1="543.10" y1="73.40" x2="543.10" y2="75.60" stroke="#555" stroke-width="0.6"/>
<line x1="310.00" y1="112.60" x2="312.20" y2="112.60" stroke="#555" stroke-width="0.6"/>
<line x1="543.10" y1="112.60" x2="540.90" y2="112.60" stroke="#555" stroke-width="0.6"/>
<line x1="310.00" y1="93.00" x2="312.20" y2="93.00" stroke="#555" stroke-width="0.6"/>
<line x1="543.10" y1="93.00" x2="540.90" y2="93.00" stroke="#555" stroke-width="0.6"/>
<line x1="310.00" y1="73.40" x2="312.20" y2="73.40" stroke="#555" stroke-width="0.6"/>
<line x1="543.10" y1="73.40" x2="540.90" y2="73.40" stroke="#555" stroke-width="0.6"/>
<rect x="310.00" y="73.40" width="233.10" height="39.20" fill="none" stroke="#555" stroke-width="0.6"/>
<g clip-path="url(#cb2)">
<polyline points="310.00,112.60 310.58,112.60 311.17,112.60 311.75,112.60 312.33,112.60 312.91,112.60 313.50,112.60 314.08,112.60 314.66,112.60 315.24,112.60 315.83,112.60 316.41,112.59 316.99,112.59 317.58,112.59 318.16,112.58 318.74,112.57 319.32,112.56 319.91,112.55 320.49,112.53 321.07,112.52 321.65,112.49 322.24,112.46 322.82,112.43 323.40,112.38 323.99,112.33 324.57,112.27 325.15,112.21 325.73,112.13 326.32,112.06 326.90,111.98 327.48,111.89 328.07,111.80 328.65,111.70 329.23,111.59 329.81,111.48 330.40,111.36 330.98,111.24 331.56,111.12 332.14,110.99 332.73,110.86 333.31,110.73 333.89,110.60 334.48,110.47 335.06,110.33 335.64,110.20 336.22,110.06 336.81,109.92 337.39,109.78 337.97,109.65 338.55,109.51 339.14,109.37 339.72,109.23 340.30,109.09 340.89,108.95 341.47,108.81 342.05,108.68 342.63,108.54 343.22,108.40 343.80,108.27 344.38,108.13 344.97,108.00 345.55,107.87 346.13,107.74 346.71,107.61 347.30,107.48 347.88,107.35 348.46,107.22 349.04,107.10 349.63,106.97 350.21,106.85 350.79,106.72 351.38,106.60 351.96,106.47 352.54,106.35 353.12,106.23 353.71,106.11 354.29,105.99 354.87,105.87 355.45,105.75 356.04,105.63 356.62,105.51 357.20,105.39 357.79,105.28 358.37,105.16 358.95,105.05 359.53,104.93 360.12,104.82 360.70,104.71 361.28,104.59 361.86,104.48 362.45,104.37 363.03,104.25 363.61,104.14 364.20,104.02 364.78,103.91 365.36,103.80 365.94,103.68 366.53,103.57 367.11,103.46 367.69,103.35 368.27,103.23 368.86,103.12 369.44,103.01 370.02,102.90 370.61,102.80 371.19,102.69 371.77,102.58 372.35,102.47 372.94,102.37 373.52,102.26 374.10,102.15 374.69,102.05 375.27,101.94 375.85,101.83 376.43,101.73 377.02,101.62 377.60,101.52 378.18,101.41 378.76,101.31 379.35,101.20 379.93,101.09 380.51,100.99 381.10,100.88 381.68,100.78 382.26,100.67 382.84,100.57 383.43,100.46 384.01,100.36 384.59,100.25 385.17,100.15 385.76,100.04 386.34,99.94 386.92,99.83 387.51,99.73 388.09,99.62 388.67,99.52 389.25,99.41 389.84,99.31 390.42,99.21 391.00,99.10 391.59,99.00 392.17,98.90 392.75,98.79 393.33,98.69 393.92,98.59 394.50,98.48 395.08,98.38 395.66,98.28 396.25,98.18 396.83,98.07 397.41,97.97 398.00,97.87 398.58,97.77 399.16,97.67 399.74,97.57 400.33,97.46 400.91,97.36 401.49,97.26 402.07,97.16 402.66,97.06 403.24,96.96 403.82,96.86 404.41,96.76 404.99,96.66 405.57,96.56 406.15,96.46 406.74,96.36 407.32,96.26 407.90,96.16 408.48,96.06 409.07,95.96 409.65,95.86 410.23,95.76 410.82,95.66 411.40,95.56 411.98,95.46 412.56,95.37 413.15,95.27 413.73,95.17 414.31,95.07 414.89,94.97 415.48,94.87 416.06,94.77 416.64,94.67 417.23,94.58 417.81,94.48 418.39,94.38 418.97,94.28 419.56,94.18 420.14,94.08 420.72,93.98 421.31,93.89 421.89,93.79 422.47,93.69 423.05,93.59 423.64,93.49 424.22,93.39 424.80,93.30 425.38,93.20 425.97,93.10 426.55,93.00 427.13,92.90 427.72,92.80 428.30,92.70 428.88,92.61 429.46,92.51 430.05,92.41 430.63,92.31 431.21,92.21 431.79,92.11 432.38,92.01 432.96,91.92 433.54,91.82 434.13,91.72 434.71,91.62 435.29,91.52 435.87,91.42 436.46,91.32 437.04,91.23 437.62,91.13 438.21,91.03 438.79,90.93 439.37,90.83 439.95,90.73 440.54,90.63 441.12,90.54 441.70,90.44 442.28,90.34 442.87,90.24 443.45,90.14 444.03,90.04 444.62,89.95 445.20,89.85 445.78,89.75 446.36,89.65 446.95,89.55 447.53,89.45 448.11,89.35 448.69,89.26 449.28,89.16 449.86,89.06 450.44,88.96 451.03,88.86 451.61,88.76 452.19,88.67 452.77,88.57 453.36,88.47 453.94,88.37 454.52,88.27 455.10,88.17 455.69,88.08 456.27,87.98 456.85,87.88 457.44,87.78 458.02,87.68 458.60,87.58 459.18,87.49 459.77,87.39 460.35,87.29 460.93,87.19 461.51,87.09 462.10,86.99 462.68,86.90 463.26,86.80 463.85,86.70 464.43,86.60 465.01,86.50 465.59,86.40 466.18,86.31 466.76,86.21 467.34,86.11 467.93,86.01 468.51,85.91 469.09,85.81 469.67,85.72 470.26,85.62 470.84,85.52 471.42,85.42 472.00,85.32 472.59,85.23 473.17,85.13 473.75,85.03 474.34,84.93 474.92,84.83 475.50,84.73 476.08,84.64 476.67,84.54 477.25,84.44 477.83,84.34 478.41,84.24 479.00,84.15 479.58,84.05 480.16,83.95 480.75,83.85 481.33,83.75 481.91,83.66 482.49,83.56 483.08,83.46 483.66,83.36 484.24,83.26 484.83,83.16 485.41,83.07 485.99,82.97 486.57,82.87 487.16,82.77 487.74,82.67 488.32,82.58 488.90,82.48 489.49,82.38 490.07,82.28 490.65,82.18 491.24,82.09 491.82,81.99 492.40,81.89 492.98,81.79 493.57,81.69 494.15,81.60 494.73,81.50 495.31,81.40 495.90,81.30 496.48,81.21 497.06,81.11 497.65,81.01 498.23,80.91 498.81,80.81 499.39,80.72 499.98,80.62 500.56,80.52 501.14,80.42 501.72,80.32 502.31,80.23 502.89,80.13 503.47,80.03 504.06,79.93 504.64,79.84 505.22,79.74 505.80,79.64 506.39,79.54 506.97,79.44 507.55,79.35 508.13,79.25 508.72,79.15 509.30,79.05 509.88,78.96 510.47,78.86 511.05,78.76 511.63,78.66 512.21,78.56 512.80,78.47 513.38,78.37 513.96,78.27 514.55,78.17 515.13,78.08 515.71,77.98 516.29,77.88 516.88,77.78 517.46,77.69 518.04,77.59 518.62,77.49 519.21,77.39 519.79,77.30 520.37,77.20 520.96,77.10 521.54,77.00 522.12,76.91 522.70,76.81 523.29,76.71 523.87,76.61 524.45,76.52 525.03,76.42 525.62,76.32 526.20,76.22 526.78,76.13 527.37,76.03 527.95,75.93 528.53,75.83 529.11,75.74 529.70,75.64 530.28,75.54 530.86,75.44 531.45,75.35 532.03,75.25 532.61,75.15 533.19,75.05 533.78,74.96 534.36,74.86 534.94,74.76 535.52,74.66 536.11,74.57 536.69,74.47 537.27,74.37 537.86,74.28 538.44,74.18 539.02,74.09 539.60,73.99 540.19,73.89 540.77,73.79 541.35,73.69 541.93,73.60 542.52,73.50 543.10,73.40" fill="none" stroke="#0072bd" stroke-width="1.6" stroke-linejoin="round" />
<polyline points="310.00,112.60 543.10,73.40" fill="none" stroke="#ff0000" stroke-width="1.6" stroke-dasharray="4.5 3.1" stroke-linejoin="round" />
</g>
<rect x="309.20" y="136.10" width="233.90" height="42.80" fill="#fff"/>
<line x1="315.05" y1="136.10" x2="315.05" y2="178.90" stroke="#eeeeee" stroke-width="0.5" stroke-dasharray="0.8 0.8"/>
<line x1="320.89" y1="136.10" x2="320.89" y2="178.90" stroke="#eeeeee" stroke-width="0.5" stroke-dasharray="0.8 0.8"/>
<line x1="326.74" y1="136.10" x2="326.74" y2="178.90" stroke="#eeeeee" stroke-width="0.5" stroke-dasharray="0.8 0.8"/>
<line x1="332.59" y1="136.10" x2="332.59" y2="178.90" stroke="#eeeeee" stroke-width="0.5" stroke-dasharray="0.8 0.8"/>
<line x1="344.28" y1="136.10" x2="344.28" y2="178.90" stroke="#eeeeee" stroke-width="0.5" stroke-dasharray="0.8 0.8"/>
<line x1="350.13" y1="136.10" x2="350.13" y2="178.90" stroke="#eeeeee" stroke-width="0.5" stroke-dasharray="0.8 0.8"/>
<line x1="355.98" y1="136.10" x2="355.98" y2="178.90" stroke="#eeeeee" stroke-width="0.5" stroke-dasharray="0.8 0.8"/>
<line x1="361.83" y1="136.10" x2="361.83" y2="178.90" stroke="#eeeeee" stroke-width="0.5" stroke-dasharray="0.8 0.8"/>
<line x1="373.52" y1="136.10" x2="373.52" y2="178.90" stroke="#eeeeee" stroke-width="0.5" stroke-dasharray="0.8 0.8"/>
<line x1="379.37" y1="136.10" x2="379.37" y2="178.90" stroke="#eeeeee" stroke-width="0.5" stroke-dasharray="0.8 0.8"/>
<line x1="385.22" y1="136.10" x2="385.22" y2="178.90" stroke="#eeeeee" stroke-width="0.5" stroke-dasharray="0.8 0.8"/>
<line x1="391.06" y1="136.10" x2="391.06" y2="178.90" stroke="#eeeeee" stroke-width="0.5" stroke-dasharray="0.8 0.8"/>
<line x1="402.76" y1="136.10" x2="402.76" y2="178.90" stroke="#eeeeee" stroke-width="0.5" stroke-dasharray="0.8 0.8"/>
<line x1="408.61" y1="136.10" x2="408.61" y2="178.90" stroke="#eeeeee" stroke-width="0.5" stroke-dasharray="0.8 0.8"/>
<line x1="414.46" y1="136.10" x2="414.46" y2="178.90" stroke="#eeeeee" stroke-width="0.5" stroke-dasharray="0.8 0.8"/>
<line x1="420.30" y1="136.10" x2="420.30" y2="178.90" stroke="#eeeeee" stroke-width="0.5" stroke-dasharray="0.8 0.8"/>
<line x1="432.00" y1="136.10" x2="432.00" y2="178.90" stroke="#eeeeee" stroke-width="0.5" stroke-dasharray="0.8 0.8"/>
<line x1="437.85" y1="136.10" x2="437.85" y2="178.90" stroke="#eeeeee" stroke-width="0.5" stroke-dasharray="0.8 0.8"/>
<line x1="443.69" y1="136.10" x2="443.69" y2="178.90" stroke="#eeeeee" stroke-width="0.5" stroke-dasharray="0.8 0.8"/>
<line x1="449.54" y1="136.10" x2="449.54" y2="178.90" stroke="#eeeeee" stroke-width="0.5" stroke-dasharray="0.8 0.8"/>
<line x1="461.24" y1="136.10" x2="461.24" y2="178.90" stroke="#eeeeee" stroke-width="0.5" stroke-dasharray="0.8 0.8"/>
<line x1="467.08" y1="136.10" x2="467.08" y2="178.90" stroke="#eeeeee" stroke-width="0.5" stroke-dasharray="0.8 0.8"/>
<line x1="472.93" y1="136.10" x2="472.93" y2="178.90" stroke="#eeeeee" stroke-width="0.5" stroke-dasharray="0.8 0.8"/>
<line x1="478.78" y1="136.10" x2="478.78" y2="178.90" stroke="#eeeeee" stroke-width="0.5" stroke-dasharray="0.8 0.8"/>
<line x1="490.47" y1="136.10" x2="490.47" y2="178.90" stroke="#eeeeee" stroke-width="0.5" stroke-dasharray="0.8 0.8"/>
<line x1="496.32" y1="136.10" x2="496.32" y2="178.90" stroke="#eeeeee" stroke-width="0.5" stroke-dasharray="0.8 0.8"/>
<line x1="502.17" y1="136.10" x2="502.17" y2="178.90" stroke="#eeeeee" stroke-width="0.5" stroke-dasharray="0.8 0.8"/>
<line x1="508.01" y1="136.10" x2="508.01" y2="178.90" stroke="#eeeeee" stroke-width="0.5" stroke-dasharray="0.8 0.8"/>
<line x1="519.71" y1="136.10" x2="519.71" y2="178.90" stroke="#eeeeee" stroke-width="0.5" stroke-dasharray="0.8 0.8"/>
<line x1="525.56" y1="136.10" x2="525.56" y2="178.90" stroke="#eeeeee" stroke-width="0.5" stroke-dasharray="0.8 0.8"/>
<line x1="531.40" y1="136.10" x2="531.40" y2="178.90" stroke="#eeeeee" stroke-width="0.5" stroke-dasharray="0.8 0.8"/>
<line x1="537.25" y1="136.10" x2="537.25" y2="178.90" stroke="#eeeeee" stroke-width="0.5" stroke-dasharray="0.8 0.8"/>
<line x1="309.20" y1="174.62" x2="543.10" y2="174.62" stroke="#eeeeee" stroke-width="0.5" stroke-dasharray="0.8 0.8"/>
<line x1="309.20" y1="170.34" x2="543.10" y2="170.34" stroke="#eeeeee" stroke-width="0.5" stroke-dasharray="0.8 0.8"/>
<line x1="309.20" y1="166.06" x2="543.10" y2="166.06" stroke="#eeeeee" stroke-width="0.5" stroke-dasharray="0.8 0.8"/>
<line x1="309.20" y1="161.78" x2="543.10" y2="161.78" stroke="#eeeeee" stroke-width="0.5" stroke-dasharray="0.8 0.8"/>
<line x1="309.20" y1="153.22" x2="543.10" y2="153.22" stroke="#eeeeee" stroke-width="0.5" stroke-dasharray="0.8 0.8"/>
<line x1="309.20" y1="148.94" x2="543.10" y2="148.94" stroke="#eeeeee" stroke-width="0.5" stroke-dasharray="0.8 0.8"/>
<line x1="309.20" y1="144.66" x2="543.10" y2="144.66" stroke="#eeeeee" stroke-width="0.5" stroke-dasharray="0.8 0.8"/>
<line x1="309.20" y1="140.38" x2="543.10" y2="140.38" stroke="#eeeeee" stroke-width="0.5" stroke-dasharray="0.8 0.8"/>
<line x1="338.44" y1="136.10" x2="338.44" y2="178.90" stroke="#eaeaea" stroke-width="0.6"/>
<line x1="367.68" y1="136.10" x2="367.68" y2="178.90" stroke="#eaeaea" stroke-width="0.6"/>
<line x1="396.91" y1="136.10" x2="396.91" y2="178.90" stroke="#eaeaea" stroke-width="0.6"/>
<line x1="426.15" y1="136.10" x2="426.15" y2="178.90" stroke="#eaeaea" stroke-width="0.6"/>
<line x1="455.39" y1="136.10" x2="455.39" y2="178.90" stroke="#eaeaea" stroke-width="0.6"/>
<line x1="484.62" y1="136.10" x2="484.62" y2="178.90" stroke="#eaeaea" stroke-width="0.6"/>
<line x1="513.86" y1="136.10" x2="513.86" y2="178.90" stroke="#eaeaea" stroke-width="0.6"/>
<line x1="309.20" y1="157.50" x2="543.10" y2="157.50" stroke="#eaeaea" stroke-width="0.6"/>
<text transform="translate(309.20,188.30) scale(1,1)" font-size="7.3" letter-spacing="0.25" text-anchor="middle">0</text>
<text transform="translate(338.44,188.30) scale(1,1)" font-size="7.3" letter-spacing="0.25" text-anchor="middle">5</text>
<text transform="translate(367.68,188.30) scale(1,1)" font-size="7.3" letter-spacing="0.25" text-anchor="middle">10</text>
<text transform="translate(396.91,188.30) scale(1,1)" font-size="7.3" letter-spacing="0.25" text-anchor="middle">15</text>
<text transform="translate(426.15,188.30) scale(1,1)" font-size="7.3" letter-spacing="0.25" text-anchor="middle">20</text>
<text transform="translate(455.39,188.30) scale(1,1)" font-size="7.3" letter-spacing="0.25" text-anchor="middle">25</text>
<text transform="translate(484.62,188.30) scale(1,1)" font-size="7.3" letter-spacing="0.25" text-anchor="middle">30</text>
<text transform="translate(513.86,188.30) scale(1,1)" font-size="7.3" letter-spacing="0.25" text-anchor="middle">35</text>
<text transform="translate(543.10,188.30) scale(1,1)" font-size="7.3" letter-spacing="0.25" text-anchor="middle">40</text>
<text transform="translate(306.60,181.10) scale(1,1)" font-size="7.3" letter-spacing="0.25" text-anchor="end">0</text>
<text transform="translate(306.60,159.70) scale(1,1)" font-size="7.3" letter-spacing="0.25" text-anchor="end">0.5</text>
<text transform="translate(306.60,138.30) scale(1,1)" font-size="7.3" letter-spacing="0.25" text-anchor="end">1</text>
<text x="426.50" y="197.70" font-size="8.6" text-anchor="middle"><tspan font-style="italic">t</tspan> [s]</text>
<text transform="translate(293.40,157.50) rotate(-90)" font-size="8.6" text-anchor="middle"><tspan font-style="italic">θ</tspan> [rad]</text>
<line x1="309.20" y1="178.90" x2="309.20" y2="176.70" stroke="#555" stroke-width="0.6"/>
<line x1="309.20" y1="136.10" x2="309.20" y2="138.30" stroke="#555" stroke-width="0.6"/>
<line x1="338.44" y1="178.90" x2="338.44" y2="176.70" stroke="#555" stroke-width="0.6"/>
<line x1="338.44" y1="136.10" x2="338.44" y2="138.30" stroke="#555" stroke-width="0.6"/>
<line x1="367.68" y1="178.90" x2="367.68" y2="176.70" stroke="#555" stroke-width="0.6"/>
<line x1="367.68" y1="136.10" x2="367.68" y2="138.30" stroke="#555" stroke-width="0.6"/>
<line x1="396.91" y1="178.90" x2="396.91" y2="176.70" stroke="#555" stroke-width="0.6"/>
<line x1="396.91" y1="136.10" x2="396.91" y2="138.30" stroke="#555" stroke-width="0.6"/>
<line x1="426.15" y1="178.90" x2="426.15" y2="176.70" stroke="#555" stroke-width="0.6"/>
<line x1="426.15" y1="136.10" x2="426.15" y2="138.30" stroke="#555" stroke-width="0.6"/>
<line x1="455.39" y1="178.90" x2="455.39" y2="176.70" stroke="#555" stroke-width="0.6"/>
<line x1="455.39" y1="136.10" x2="455.39" y2="138.30" stroke="#555" stroke-width="0.6"/>
<line x1="484.62" y1="178.90" x2="484.62" y2="176.70" stroke="#555" stroke-width="0.6"/>
<line x1="484.62" y1="136.10" x2="484.62" y2="138.30" stroke="#555" stroke-width="0.6"/>
<line x1="513.86" y1="178.90" x2="513.86" y2="176.70" stroke="#555" stroke-width="0.6"/>
<line x1="513.86" y1="136.10" x2="513.86" y2="138.30" stroke="#555" stroke-width="0.6"/>
<line x1="543.10" y1="178.90" x2="543.10" y2="176.70" stroke="#555" stroke-width="0.6"/>
<line x1="543.10" y1="136.10" x2="543.10" y2="138.30" stroke="#555" stroke-width="0.6"/>
<line x1="309.20" y1="178.90" x2="311.40" y2="178.90" stroke="#555" stroke-width="0.6"/>
<line x1="543.10" y1="178.90" x2="540.90" y2="178.90" stroke="#555" stroke-width="0.6"/>
<line x1="309.20" y1="157.50" x2="311.40" y2="157.50" stroke="#555" stroke-width="0.6"/>
<line x1="543.10" y1="157.50" x2="540.90" y2="157.50" stroke="#555" stroke-width="0.6"/>
<line x1="309.20" y1="136.10" x2="311.40" y2="136.10" stroke="#555" stroke-width="0.6"/>
<line x1="543.10" y1="136.10" x2="540.90" y2="136.10" stroke="#555" stroke-width="0.6"/>
<rect x="309.20" y="136.10" width="233.90" height="42.80" fill="none" stroke="#555" stroke-width="0.6"/>
<g clip-path="url(#cb3)">
<polyline points="309.20,178.90 309.78,178.90 310.37,178.89 310.95,178.88 311.54,178.87 312.12,178.86 312.71,178.85 313.29,178.83 313.88,178.81 314.46,178.79 315.05,178.76 315.63,178.71 316.22,178.65 316.80,178.57 317.39,178.48 317.97,178.35 318.56,178.20 319.14,178.00 319.73,177.75 320.31,177.44 320.89,177.04 321.48,176.51 322.06,175.85 322.65,175.07 323.23,174.20 323.82,173.26 324.40,172.26 324.99,171.20 325.57,170.13 326.16,169.07 326.74,168.08 327.33,167.16 327.91,166.29 328.50,165.47 329.08,164.67 329.67,163.91 330.25,163.18 330.84,162.47 331.42,161.80 332.01,161.15 332.59,160.52 333.17,159.92 333.76,159.33 334.34,158.77 334.93,158.23 335.51,157.70 336.10,157.20 336.68,156.71 337.27,156.25 337.85,155.80 338.44,155.38 339.02,154.97 339.61,154.57 340.19,154.19 340.78,153.83 341.36,153.47 341.95,153.14 342.53,152.81 343.12,152.51 343.70,152.22 344.28,151.95 344.87,151.69 345.45,151.44 346.04,151.20 346.62,150.97 347.21,150.74 347.79,150.53 348.38,150.32 348.96,150.11 349.55,149.92 350.13,149.73 350.72,149.56 351.30,149.39 351.89,149.24 352.47,149.09 353.06,148.95 353.64,148.81 354.23,148.69 354.81,148.56 355.40,148.44 355.98,148.32 356.56,148.21 357.15,148.10 357.73,147.99 358.32,147.88 358.90,147.78 359.49,147.68 360.07,147.58 360.66,147.49 361.24,147.40 361.83,147.31 362.41,147.23 363.00,147.14 363.58,147.06 364.17,146.99 364.75,146.91 365.34,146.84 365.92,146.78 366.51,146.71 367.09,146.65 367.68,146.59 368.26,146.53 368.84,146.47 369.43,146.42 370.01,146.36 370.60,146.31 371.18,146.26 371.77,146.20 372.35,146.16 372.94,146.11 373.52,146.06 374.11,146.02 374.69,145.98 375.28,145.94 375.86,145.90 376.45,145.87 377.03,145.83 377.62,145.80 378.20,145.78 378.79,145.75 379.37,145.73 379.95,145.71 380.54,145.69 381.12,145.68 381.71,145.66 382.29,145.64 382.88,145.63 383.46,145.61 384.05,145.59 384.63,145.58 385.22,145.57 385.80,145.55 386.39,145.54 386.97,145.53 387.56,145.51 388.14,145.50 388.73,145.49 389.31,145.48 389.90,145.47 390.48,145.46 391.06,145.45 391.65,145.44 392.23,145.43 392.82,145.43 393.40,145.42 393.99,145.41 394.57,145.41 395.16,145.40 395.74,145.40 396.33,145.39 396.91,145.39 397.50,145.38 398.08,145.38 398.67,145.38 399.25,145.38 399.84,145.37 400.42,145.37 401.01,145.37 401.59,145.36 402.18,145.36 402.76,145.36 403.34,145.36 403.93,145.35 404.51,145.35 405.10,145.35 405.68,145.35 406.27,145.34 406.85,145.34 407.44,145.34 408.02,145.34 408.61,145.33 409.19,145.33 409.78,145.33 410.36,145.33 410.95,145.33 411.53,145.33 412.12,145.32 412.70,145.32 413.29,145.32 413.87,145.32 414.46,145.32 415.04,145.32 415.62,145.31 416.21,145.31 416.79,145.31 417.38,145.31 417.96,145.31 418.55,145.31 419.13,145.31 419.72,145.31 420.30,145.31 420.89,145.31 421.47,145.30 422.06,145.30 422.64,145.30 423.23,145.30 423.81,145.30 424.40,145.30 424.98,145.30 425.57,145.30 426.15,145.30 426.73,145.30 427.32,145.30 427.90,145.30 428.49,145.30 429.07,145.30 429.66,145.30 430.24,145.30 430.83,145.30 431.41,145.30 432.00,145.30 432.58,145.30 433.17,145.30 433.75,145.30 434.34,145.30 434.92,145.30 435.51,145.30 436.09,145.30 436.68,145.30 437.26,145.30 437.85,145.30 438.43,145.30 439.01,145.30 439.60,145.30 440.18,145.30 440.77,145.30 441.35,145.30 441.94,145.30 442.52,145.30 443.11,145.30 443.69,145.30 444.28,145.30 444.86,145.30 445.45,145.30 446.03,145.30 446.62,145.30 447.20,145.30 447.79,145.30 448.37,145.30 448.96,145.30 449.54,145.30 450.12,145.30 450.71,145.30 451.29,145.30 451.88,145.30 452.46,145.30 453.05,145.30 453.63,145.30 454.22,145.30 454.80,145.30 455.39,145.30 455.97,145.30 456.56,145.30 457.14,145.30 457.73,145.30 458.31,145.30 458.90,145.30 459.48,145.30 460.07,145.30 460.65,145.30 461.24,145.30 461.82,145.30 462.40,145.30 462.99,145.30 463.57,145.30 464.16,145.30 464.74,145.30 465.33,145.30 465.91,145.30 466.50,145.30 467.08,145.30 467.67,145.30 468.25,145.30 468.84,145.30 469.42,145.30 470.01,145.30 470.59,145.30 471.18,145.30 471.76,145.30 472.35,145.30 472.93,145.30 473.51,145.30 474.10,145.30 474.68,145.30 475.27,145.30 475.85,145.30 476.44,145.30 477.02,145.30 477.61,145.30 478.19,145.30 478.78,145.30 479.36,145.30 479.95,145.30 480.53,145.30 481.12,145.30 481.70,145.30 482.29,145.30 482.87,145.30 483.46,145.30 484.04,145.30 484.62,145.30 485.21,145.30 485.79,145.30 486.38,145.30 486.96,145.30 487.55,145.30 488.13,145.30 488.72,145.30 489.30,145.30 489.89,145.30 490.47,145.30 491.06,145.30 491.64,145.30 492.23,145.30 492.81,145.30 493.40,145.30 493.98,145.30 494.57,145.30 495.15,145.30 495.74,145.30 496.32,145.30 496.90,145.30 497.49,145.30 498.07,145.30 498.66,145.30 499.24,145.30 499.83,145.30 500.41,145.30 501.00,145.30 501.58,145.30 502.17,145.30 502.75,145.30 503.34,145.30 503.92,145.30 504.51,145.30 505.09,145.30 505.68,145.30 506.26,145.30 506.85,145.30 507.43,145.30 508.01,145.30 508.60,145.30 509.18,145.30 509.77,145.30 510.35,145.30 510.94,145.30 511.52,145.30 512.11,145.30 512.69,145.30 513.28,145.30 513.86,145.30 514.45,145.30 515.03,145.30 515.62,145.30 516.20,145.30 516.79,145.30 517.37,145.30 517.96,145.30 518.54,145.30 519.13,145.30 519.71,145.30 520.29,145.30 520.88,145.30 521.46,145.30 522.05,145.30 522.63,145.30 523.22,145.30 523.80,145.30 524.39,145.30 524.97,145.30 525.56,145.30 526.14,145.30 526.73,145.30 527.31,145.30 527.90,145.30 528.48,145.30 529.07,145.30 529.65,145.30 530.24,145.30 530.82,145.30 531.40,145.30 531.99,145.30 532.57,145.30 533.16,145.30 533.74,145.30 534.33,145.30 534.91,145.30 535.50,145.30 536.08,145.30 536.67,145.30 537.25,145.30 537.84,145.30 538.42,145.30 539.01,145.30 539.59,145.30 540.18,145.30 540.76,145.30 541.35,145.30 541.93,145.30 542.52,145.30 543.10,145.30" fill="none" stroke="#0072bd" stroke-width="1.6" stroke-linejoin="round" />
<polyline points="309.20,145.30 543.10,145.30" fill="none" stroke="#ff0000" stroke-width="1.6" stroke-dasharray="4.5 3.1" stroke-linejoin="round" />
</g>
<rect x="30.00" y="225.40" width="232.20" height="72.60" fill="#fff"/>
<line x1="35.80" y1="225.40" x2="35.80" y2="298.00" stroke="#eeeeee" stroke-width="0.5" stroke-dasharray="0.8 0.8"/>
<line x1="41.61" y1="225.40" x2="41.61" y2="298.00" stroke="#eeeeee" stroke-width="0.5" stroke-dasharray="0.8 0.8"/>
<line x1="47.41" y1="225.40" x2="47.41" y2="298.00" stroke="#eeeeee" stroke-width="0.5" stroke-dasharray="0.8 0.8"/>
<line x1="53.22" y1="225.40" x2="53.22" y2="298.00" stroke="#eeeeee" stroke-width="0.5" stroke-dasharray="0.8 0.8"/>
<line x1="64.83" y1="225.40" x2="64.83" y2="298.00" stroke="#eeeeee" stroke-width="0.5" stroke-dasharray="0.8 0.8"/>
<line x1="70.63" y1="225.40" x2="70.63" y2="298.00" stroke="#eeeeee" stroke-width="0.5" stroke-dasharray="0.8 0.8"/>
<line x1="76.44" y1="225.40" x2="76.44" y2="298.00" stroke="#eeeeee" stroke-width="0.5" stroke-dasharray="0.8 0.8"/>
<line x1="82.25" y1="225.40" x2="82.25" y2="298.00" stroke="#eeeeee" stroke-width="0.5" stroke-dasharray="0.8 0.8"/>
<line x1="93.86" y1="225.40" x2="93.86" y2="298.00" stroke="#eeeeee" stroke-width="0.5" stroke-dasharray="0.8 0.8"/>
<line x1="99.66" y1="225.40" x2="99.66" y2="298.00" stroke="#eeeeee" stroke-width="0.5" stroke-dasharray="0.8 0.8"/>
<line x1="105.47" y1="225.40" x2="105.47" y2="298.00" stroke="#eeeeee" stroke-width="0.5" stroke-dasharray="0.8 0.8"/>
<line x1="111.27" y1="225.40" x2="111.27" y2="298.00" stroke="#eeeeee" stroke-width="0.5" stroke-dasharray="0.8 0.8"/>
<line x1="122.88" y1="225.40" x2="122.88" y2="298.00" stroke="#eeeeee" stroke-width="0.5" stroke-dasharray="0.8 0.8"/>
<line x1="128.69" y1="225.40" x2="128.69" y2="298.00" stroke="#eeeeee" stroke-width="0.5" stroke-dasharray="0.8 0.8"/>
<line x1="134.49" y1="225.40" x2="134.49" y2="298.00" stroke="#eeeeee" stroke-width="0.5" stroke-dasharray="0.8 0.8"/>
<line x1="140.29" y1="225.40" x2="140.29" y2="298.00" stroke="#eeeeee" stroke-width="0.5" stroke-dasharray="0.8 0.8"/>
<line x1="151.91" y1="225.40" x2="151.91" y2="298.00" stroke="#eeeeee" stroke-width="0.5" stroke-dasharray="0.8 0.8"/>
<line x1="157.71" y1="225.40" x2="157.71" y2="298.00" stroke="#eeeeee" stroke-width="0.5" stroke-dasharray="0.8 0.8"/>
<line x1="163.51" y1="225.40" x2="163.51" y2="298.00" stroke="#eeeeee" stroke-width="0.5" stroke-dasharray="0.8 0.8"/>
<line x1="169.32" y1="225.40" x2="169.32" y2="298.00" stroke="#eeeeee" stroke-width="0.5" stroke-dasharray="0.8 0.8"/>
<line x1="180.93" y1="225.40" x2="180.93" y2="298.00" stroke="#eeeeee" stroke-width="0.5" stroke-dasharray="0.8 0.8"/>
<line x1="186.74" y1="225.40" x2="186.74" y2="298.00" stroke="#eeeeee" stroke-width="0.5" stroke-dasharray="0.8 0.8"/>
<line x1="192.54" y1="225.40" x2="192.54" y2="298.00" stroke="#eeeeee" stroke-width="0.5" stroke-dasharray="0.8 0.8"/>
<line x1="198.34" y1="225.40" x2="198.34" y2="298.00" stroke="#eeeeee" stroke-width="0.5" stroke-dasharray="0.8 0.8"/>
<line x1="209.95" y1="225.40" x2="209.95" y2="298.00" stroke="#eeeeee" stroke-width="0.5" stroke-dasharray="0.8 0.8"/>
<line x1="215.76" y1="225.40" x2="215.76" y2="298.00" stroke="#eeeeee" stroke-width="0.5" stroke-dasharray="0.8 0.8"/>
<line x1="221.56" y1="225.40" x2="221.56" y2="298.00" stroke="#eeeeee" stroke-width="0.5" stroke-dasharray="0.8 0.8"/>
<line x1="227.37" y1="225.40" x2="227.37" y2="298.00" stroke="#eeeeee" stroke-width="0.5" stroke-dasharray="0.8 0.8"/>
<line x1="238.98" y1="225.40" x2="238.98" y2="298.00" stroke="#eeeeee" stroke-width="0.5" stroke-dasharray="0.8 0.8"/>
<line x1="244.78" y1="225.40" x2="244.78" y2="298.00" stroke="#eeeeee" stroke-width="0.5" stroke-dasharray="0.8 0.8"/>
<line x1="250.59" y1="225.40" x2="250.59" y2="298.00" stroke="#eeeeee" stroke-width="0.5" stroke-dasharray="0.8 0.8"/>
<line x1="256.39" y1="225.40" x2="256.39" y2="298.00" stroke="#eeeeee" stroke-width="0.5" stroke-dasharray="0.8 0.8"/>
<line x1="30.00" y1="290.74" x2="262.20" y2="290.74" stroke="#eeeeee" stroke-width="0.5" stroke-dasharray="0.8 0.8"/>
<line x1="30.00" y1="283.48" x2="262.20" y2="283.48" stroke="#eeeeee" stroke-width="0.5" stroke-dasharray="0.8 0.8"/>
<line x1="30.00" y1="276.22" x2="262.20" y2="276.22" stroke="#eeeeee" stroke-width="0.5" stroke-dasharray="0.8 0.8"/>
<line x1="30.00" y1="268.96" x2="262.20" y2="268.96" stroke="#eeeeee" stroke-width="0.5" stroke-dasharray="0.8 0.8"/>
<line x1="30.00" y1="254.44" x2="262.20" y2="254.44" stroke="#eeeeee" stroke-width="0.5" stroke-dasharray="0.8 0.8"/>
<line x1="30.00" y1="247.18" x2="262.20" y2="247.18" stroke="#eeeeee" stroke-width="0.5" stroke-dasharray="0.8 0.8"/>
<line x1="30.00" y1="239.92" x2="262.20" y2="239.92" stroke="#eeeeee" stroke-width="0.5" stroke-dasharray="0.8 0.8"/>
<line x1="30.00" y1="232.66" x2="262.20" y2="232.66" stroke="#eeeeee" stroke-width="0.5" stroke-dasharray="0.8 0.8"/>
<line x1="59.02" y1="225.40" x2="59.02" y2="298.00" stroke="#eaeaea" stroke-width="0.6"/>
<line x1="88.05" y1="225.40" x2="88.05" y2="298.00" stroke="#eaeaea" stroke-width="0.6"/>
<line x1="117.07" y1="225.40" x2="117.07" y2="298.00" stroke="#eaeaea" stroke-width="0.6"/>
<line x1="146.10" y1="225.40" x2="146.10" y2="298.00" stroke="#eaeaea" stroke-width="0.6"/>
<line x1="175.12" y1="225.40" x2="175.12" y2="298.00" stroke="#eaeaea" stroke-width="0.6"/>
<line x1="204.15" y1="225.40" x2="204.15" y2="298.00" stroke="#eaeaea" stroke-width="0.6"/>
<line x1="233.17" y1="225.40" x2="233.17" y2="298.00" stroke="#eaeaea" stroke-width="0.6"/>
<line x1="30.00" y1="261.70" x2="262.20" y2="261.70" stroke="#eaeaea" stroke-width="0.6"/>
<text transform="translate(30.00,307.40) scale(1,1)" font-size="7.3" letter-spacing="0.25" text-anchor="middle">0</text>
<text transform="translate(59.02,307.40) scale(1,1)" font-size="7.3" letter-spacing="0.25" text-anchor="middle">5</text>
<text transform="translate(88.05,307.40) scale(1,1)" font-size="7.3" letter-spacing="0.25" text-anchor="middle">10</text>
<text transform="translate(117.07,307.40) scale(1,1)" font-size="7.3" letter-spacing="0.25" text-anchor="middle">15</text>
<text transform="translate(146.10,307.40) scale(1,1)" font-size="7.3" letter-spacing="0.25" text-anchor="middle">20</text>
<text transform="translate(175.12,307.40) scale(1,1)" font-size="7.3" letter-spacing="0.25" text-anchor="middle">25</text>
<text transform="translate(204.15,307.40) scale(1,1)" font-size="7.3" letter-spacing="0.25" text-anchor="middle">30</text>
<text transform="translate(233.17,307.40) scale(1,1)" font-size="7.3" letter-spacing="0.25" text-anchor="middle">35</text>
<text transform="translate(262.20,307.40) scale(1,1)" font-size="7.3" letter-spacing="0.25" text-anchor="middle">40</text>
<text transform="translate(27.40,300.20) scale(1,1)" font-size="7.3" letter-spacing="0.25" text-anchor="end">0</text>
<text transform="translate(27.40,263.90) scale(1,1)" font-size="7.3" letter-spacing="0.25" text-anchor="end">0.5</text>
<text transform="translate(27.40,227.60) scale(1,1)" font-size="7.3" letter-spacing="0.25" text-anchor="end">1</text>
<text x="146.50" y="316.80" font-size="8.6" text-anchor="middle"><tspan font-style="italic">t</tspan> [s]</text>
<text transform="translate(13.20,261.70) rotate(-90)" font-size="8.6" text-anchor="middle"><tspan font-style="italic">δ</tspan><tspan font-size="6.2" dy="1.6">1</tspan><tspan dy="-1.6" font-size="6.2">&#8201;</tspan> [rad]</text>
<line x1="30.00" y1="298.00" x2="30.00" y2="295.80" stroke="#555" stroke-width="0.6"/>
<line x1="30.00" y1="225.40" x2="30.00" y2="227.60" stroke="#555" stroke-width="0.6"/>
<line x1="59.02" y1="298.00" x2="59.02" y2="295.80" stroke="#555" stroke-width="0.6"/>
<line x1="59.02" y1="225.40" x2="59.02" y2="227.60" stroke="#555" stroke-width="0.6"/>
<line x1="88.05" y1="298.00" x2="88.05" y2="295.80" stroke="#555" stroke-width="0.6"/>
<line x1="88.05" y1="225.40" x2="88.05" y2="227.60" stroke="#555" stroke-width="0.6"/>
<line x1="117.07" y1="298.00" x2="117.07" y2="295.80" stroke="#555" stroke-width="0.6"/>
<line x1="117.07" y1="225.40" x2="117.07" y2="227.60" stroke="#555" stroke-width="0.6"/>
<line x1="146.10" y1="298.00" x2="146.10" y2="295.80" stroke="#555" stroke-width="0.6"/>
<line x1="146.10" y1="225.40" x2="146.10" y2="227.60" stroke="#555" stroke-width="0.6"/>
<line x1="175.12" y1="298.00" x2="175.12" y2="295.80" stroke="#555" stroke-width="0.6"/>
<line x1="175.12" y1="225.40" x2="175.12" y2="227.60" stroke="#555" stroke-width="0.6"/>
<line x1="204.15" y1="298.00" x2="204.15" y2="295.80" stroke="#555" stroke-width="0.6"/>
<line x1="204.15" y1="225.40" x2="204.15" y2="227.60" stroke="#555" stroke-width="0.6"/>
<line x1="233.17" y1="298.00" x2="233.17" y2="295.80" stroke="#555" stroke-width="0.6"/>
<line x1="233.17" y1="225.40" x2="233.17" y2="227.60" stroke="#555" stroke-width="0.6"/>
<line x1="262.20" y1="298.00" x2="262.20" y2="295.80" stroke="#555" stroke-width="0.6"/>
<line x1="262.20" y1="225.40" x2="262.20" y2="227.60" stroke="#555" stroke-width="0.6"/>
<line x1="30.00" y1="298.00" x2="32.20" y2="298.00" stroke="#555" stroke-width="0.6"/>
<line x1="262.20" y1="298.00" x2="260.00" y2="298.00" stroke="#555" stroke-width="0.6"/>
<line x1="30.00" y1="261.70" x2="32.20" y2="261.70" stroke="#555" stroke-width="0.6"/>
<line x1="262.20" y1="261.70" x2="260.00" y2="261.70" stroke="#555" stroke-width="0.6"/>
<line x1="30.00" y1="225.40" x2="32.20" y2="225.40" stroke="#555" stroke-width="0.6"/>
<line x1="262.20" y1="225.40" x2="260.00" y2="225.40" stroke="#555" stroke-width="0.6"/>
<rect x="30.00" y="225.40" width="232.20" height="72.60" fill="none" stroke="#555" stroke-width="0.6"/>
<g clip-path="url(#cc1)">
<polyline points="30.00,297.85 30.58,297.62 31.16,297.27 31.74,296.83 32.32,296.33 32.90,295.79 33.48,295.19 34.06,294.53 34.64,293.78 35.22,292.91 35.80,291.85 36.39,290.53 36.97,288.86 37.55,286.82 38.13,284.38 38.71,281.50 39.29,278.19 39.87,274.54 40.45,270.65 41.03,266.56 41.61,262.29 42.19,257.83 42.77,253.18 43.35,248.43 43.93,243.74 44.51,239.44 45.09,235.81 45.67,232.98 46.25,230.94 46.83,229.56 47.41,228.68 48.00,228.18 48.58,227.92 49.16,227.86 49.74,227.96 50.32,228.19 50.90,228.54 51.48,229.02 52.06,229.64 52.64,230.40 53.22,231.25 53.80,232.15 54.38,233.11 54.96,234.13 55.54,235.21 56.12,236.32 56.70,237.45 57.28,238.58 57.86,239.72 58.44,240.87 59.02,242.03 59.61,243.21 60.19,244.39 60.77,245.58 61.35,246.76 61.93,247.95 62.51,249.14 63.09,250.34 63.67,251.55 64.25,252.75 64.83,253.94 65.41,255.11 65.99,256.26 66.57,257.40 67.15,258.52 67.73,259.63 68.31,260.72 68.89,261.80 69.47,262.85 70.05,263.87 70.63,264.87 71.22,265.84 71.80,266.77 72.38,267.69 72.96,268.58 73.54,269.46 74.12,270.34 74.70,271.20 75.28,272.06 75.86,272.90 76.44,273.73 77.02,274.54 77.60,275.33 78.18,276.10 78.76,276.86 79.34,277.59 79.92,278.31 80.50,279.01 81.08,279.69 81.66,280.36 82.25,281.02 82.83,281.66 83.41,282.28 83.99,282.88 84.57,283.47 85.15,284.03 85.73,284.58 86.31,285.11 86.89,285.63 87.47,286.12 88.05,286.59 88.63,287.04 89.21,287.48 89.79,287.91 90.37,288.32 90.95,288.73 91.53,289.11 92.11,289.49 92.69,289.85 93.27,290.19 93.86,290.51 94.44,290.82 95.02,291.12 95.60,291.41 96.18,291.69 96.76,291.95 97.34,292.21 97.92,292.45 98.50,292.69 99.08,292.91 99.66,293.13 100.24,293.34 100.82,293.53 101.40,293.73 101.98,293.91 102.56,294.09 103.14,294.26 103.72,294.42 104.30,294.58 104.88,294.73 105.47,294.87 106.05,295.01 106.63,295.15 107.21,295.27 107.79,295.40 108.37,295.52 108.95,295.63 109.53,295.74 110.11,295.85 110.69,295.94 111.27,296.04 111.85,296.12 112.43,296.21 113.01,296.29 113.59,296.37 114.17,296.44 114.75,296.51 115.33,296.58 115.91,296.65 116.49,296.71 117.07,296.76 117.66,296.82 118.24,296.87 118.82,296.93 119.40,296.98 119.98,297.03 120.56,297.08 121.14,297.12 121.72,297.17 122.30,297.21 122.88,297.25 123.46,297.29 124.04,297.32 124.62,297.36 125.20,297.39 125.78,297.42 126.36,297.44 126.94,297.47 127.52,297.49 128.10,297.52 128.69,297.54 129.27,297.56 129.85,297.58 130.43,297.60 131.01,297.61 131.59,297.63 132.17,297.65 132.75,297.66 133.33,297.68 133.91,297.69 134.49,297.71 135.07,297.72 135.65,297.74 136.23,297.75 136.81,297.77 137.39,297.78 137.97,297.79 138.55,297.81 139.13,297.82 139.71,297.83 140.29,297.84 140.88,297.85 141.46,297.87 142.04,297.88 142.62,297.89 143.20,297.89 143.78,297.90 144.36,297.91 144.94,297.92 145.52,297.92 146.10,297.93 146.68,297.93 147.26,297.94 147.84,297.94 148.42,297.94 149.00,297.95 149.58,297.95 150.16,297.95 150.74,297.96 151.32,297.96 151.91,297.96 152.49,297.97 153.07,297.97 153.65,297.97 154.23,297.98 154.81,297.98 155.39,297.98 155.97,297.98 156.55,297.99 157.13,297.99 157.71,297.99 158.29,297.99 158.87,297.99 159.45,298.00 160.03,298.00 160.61,298.00 161.19,298.00 161.77,298.00 162.35,298.00 162.93,298.00 163.51,298.00 164.10,298.00 164.68,298.00 165.26,298.00 165.84,298.00 166.42,298.00 167.00,298.00 167.58,298.00 168.16,298.00 168.74,298.00 169.32,298.00 169.90,298.00 170.48,298.00 171.06,298.00 171.64,298.00 172.22,298.00 172.80,298.00 173.38,298.00 173.96,298.00 174.54,298.00 175.12,298.00 175.71,298.00 176.29,298.00 176.87,298.00 177.45,298.00 178.03,298.00 178.61,298.00 179.19,298.00 179.77,298.00 180.35,298.00 180.93,298.00 181.51,298.00 182.09,298.00 182.67,298.00 183.25,298.00 183.83,298.00 184.41,298.00 184.99,298.00 185.57,298.00 186.15,298.00 186.74,298.00 187.32,298.00 187.90,298.00 188.48,298.00 189.06,298.00 189.64,298.00 190.22,298.00 190.80,298.00 191.38,298.00 191.96,298.00 192.54,298.00 193.12,298.00 193.70,298.00 194.28,298.00 194.86,298.00 195.44,298.00 196.02,298.00 196.60,298.00 197.18,298.00 197.76,298.00 198.34,298.00 198.93,298.00 199.51,298.00 200.09,298.00 200.67,298.00 201.25,298.00 201.83,298.00 202.41,298.00 202.99,298.00 203.57,298.00 204.15,298.00 204.73,298.00 205.31,298.00 205.89,298.00 206.47,298.00 207.05,298.00 207.63,298.00 208.21,298.00 208.79,298.00 209.37,298.00 209.95,298.00 210.54,298.00 211.12,298.00 211.70,298.00 212.28,298.00 212.86,298.00 213.44,298.00 214.02,298.00 214.60,298.00 215.18,298.00 215.76,298.00 216.34,298.00 216.92,298.00 217.50,298.00 218.08,298.00 218.66,298.00 219.24,298.00 219.82,298.00 220.40,298.00 220.98,298.00 221.56,298.00 222.15,298.00 222.73,298.00 223.31,298.00 223.89,298.00 224.47,298.00 225.05,298.00 225.63,298.00 226.21,298.00 226.79,298.00 227.37,298.00 227.95,298.00 228.53,298.00 229.11,298.00 229.69,298.00 230.27,298.00 230.85,298.00 231.43,298.00 232.01,298.00 232.59,298.00 233.17,298.00 233.76,298.00 234.34,298.00 234.92,298.00 235.50,298.00 236.08,298.00 236.66,298.00 237.24,298.00 237.82,298.00 238.40,298.00 238.98,298.00 239.56,298.00 240.14,298.00 240.72,298.00 241.30,298.00 241.88,298.00 242.46,298.00 243.04,298.00 243.62,298.00 244.20,298.00 244.78,298.00 245.37,298.00 245.95,298.00 246.53,298.00 247.11,298.00 247.69,298.00 248.27,298.00 248.85,298.00 249.43,298.00 250.01,298.00 250.59,298.00 251.17,298.00 251.75,298.00 252.33,298.00 252.91,298.00 253.49,298.00 254.07,298.00 254.65,298.00 255.23,298.00 255.81,298.00 256.39,298.00 256.98,298.00 257.56,298.00 258.14,298.00 258.72,298.00 259.30,298.00 259.88,298.00 260.46,298.00 261.04,298.00 261.62,298.00 262.20,298.00" fill="none" stroke="#0072bd" stroke-width="1.6" stroke-linejoin="round" />
</g>
<rect x="30.00" y="321.60" width="232.20" height="74.10" fill="#fff"/>
<line x1="35.80" y1="321.60" x2="35.80" y2="395.70" stroke="#eeeeee" stroke-width="0.5" stroke-dasharray="0.8 0.8"/>
<line x1="41.61" y1="321.60" x2="41.61" y2="395.70" stroke="#eeeeee" stroke-width="0.5" stroke-dasharray="0.8 0.8"/>
<line x1="47.41" y1="321.60" x2="47.41" y2="395.70" stroke="#eeeeee" stroke-width="0.5" stroke-dasharray="0.8 0.8"/>
<line x1="53.22" y1="321.60" x2="53.22" y2="395.70" stroke="#eeeeee" stroke-width="0.5" stroke-dasharray="0.8 0.8"/>
<line x1="64.83" y1="321.60" x2="64.83" y2="395.70" stroke="#eeeeee" stroke-width="0.5" stroke-dasharray="0.8 0.8"/>
<line x1="70.63" y1="321.60" x2="70.63" y2="395.70" stroke="#eeeeee" stroke-width="0.5" stroke-dasharray="0.8 0.8"/>
<line x1="76.44" y1="321.60" x2="76.44" y2="395.70" stroke="#eeeeee" stroke-width="0.5" stroke-dasharray="0.8 0.8"/>
<line x1="82.25" y1="321.60" x2="82.25" y2="395.70" stroke="#eeeeee" stroke-width="0.5" stroke-dasharray="0.8 0.8"/>
<line x1="93.86" y1="321.60" x2="93.86" y2="395.70" stroke="#eeeeee" stroke-width="0.5" stroke-dasharray="0.8 0.8"/>
<line x1="99.66" y1="321.60" x2="99.66" y2="395.70" stroke="#eeeeee" stroke-width="0.5" stroke-dasharray="0.8 0.8"/>
<line x1="105.47" y1="321.60" x2="105.47" y2="395.70" stroke="#eeeeee" stroke-width="0.5" stroke-dasharray="0.8 0.8"/>
<line x1="111.27" y1="321.60" x2="111.27" y2="395.70" stroke="#eeeeee" stroke-width="0.5" stroke-dasharray="0.8 0.8"/>
<line x1="122.88" y1="321.60" x2="122.88" y2="395.70" stroke="#eeeeee" stroke-width="0.5" stroke-dasharray="0.8 0.8"/>
<line x1="128.69" y1="321.60" x2="128.69" y2="395.70" stroke="#eeeeee" stroke-width="0.5" stroke-dasharray="0.8 0.8"/>
<line x1="134.49" y1="321.60" x2="134.49" y2="395.70" stroke="#eeeeee" stroke-width="0.5" stroke-dasharray="0.8 0.8"/>
<line x1="140.29" y1="321.60" x2="140.29" y2="395.70" stroke="#eeeeee" stroke-width="0.5" stroke-dasharray="0.8 0.8"/>
<line x1="151.91" y1="321.60" x2="151.91" y2="395.70" stroke="#eeeeee" stroke-width="0.5" stroke-dasharray="0.8 0.8"/>
<line x1="157.71" y1="321.60" x2="157.71" y2="395.70" stroke="#eeeeee" stroke-width="0.5" stroke-dasharray="0.8 0.8"/>
<line x1="163.51" y1="321.60" x2="163.51" y2="395.70" stroke="#eeeeee" stroke-width="0.5" stroke-dasharray="0.8 0.8"/>
<line x1="169.32" y1="321.60" x2="169.32" y2="395.70" stroke="#eeeeee" stroke-width="0.5" stroke-dasharray="0.8 0.8"/>
<line x1="180.93" y1="321.60" x2="180.93" y2="395.70" stroke="#eeeeee" stroke-width="0.5" stroke-dasharray="0.8 0.8"/>
<line x1="186.74" y1="321.60" x2="186.74" y2="395.70" stroke="#eeeeee" stroke-width="0.5" stroke-dasharray="0.8 0.8"/>
<line x1="192.54" y1="321.60" x2="192.54" y2="395.70" stroke="#eeeeee" stroke-width="0.5" stroke-dasharray="0.8 0.8"/>
<line x1="198.34" y1="321.60" x2="198.34" y2="395.70" stroke="#eeeeee" stroke-width="0.5" stroke-dasharray="0.8 0.8"/>
<line x1="209.95" y1="321.60" x2="209.95" y2="395.70" stroke="#eeeeee" stroke-width="0.5" stroke-dasharray="0.8 0.8"/>
<line x1="215.76" y1="321.60" x2="215.76" y2="395.70" stroke="#eeeeee" stroke-width="0.5" stroke-dasharray="0.8 0.8"/>
<line x1="221.56" y1="321.60" x2="221.56" y2="395.70" stroke="#eeeeee" stroke-width="0.5" stroke-dasharray="0.8 0.8"/>
<line x1="227.37" y1="321.60" x2="227.37" y2="395.70" stroke="#eeeeee" stroke-width="0.5" stroke-dasharray="0.8 0.8"/>
<line x1="238.98" y1="321.60" x2="238.98" y2="395.70" stroke="#eeeeee" stroke-width="0.5" stroke-dasharray="0.8 0.8"/>
<line x1="244.78" y1="321.60" x2="244.78" y2="395.70" stroke="#eeeeee" stroke-width="0.5" stroke-dasharray="0.8 0.8"/>
<line x1="250.59" y1="321.60" x2="250.59" y2="395.70" stroke="#eeeeee" stroke-width="0.5" stroke-dasharray="0.8 0.8"/>
<line x1="256.39" y1="321.60" x2="256.39" y2="395.70" stroke="#eeeeee" stroke-width="0.5" stroke-dasharray="0.8 0.8"/>
<line x1="30.00" y1="393.58" x2="262.20" y2="393.58" stroke="#eeeeee" stroke-width="0.5" stroke-dasharray="0.8 0.8"/>
<line x1="30.00" y1="389.35" x2="262.20" y2="389.35" stroke="#eeeeee" stroke-width="0.5" stroke-dasharray="0.8 0.8"/>
<line x1="30.00" y1="380.88" x2="262.20" y2="380.88" stroke="#eeeeee" stroke-width="0.5" stroke-dasharray="0.8 0.8"/>
<line x1="30.00" y1="376.65" x2="262.20" y2="376.65" stroke="#eeeeee" stroke-width="0.5" stroke-dasharray="0.8 0.8"/>
<line x1="30.00" y1="372.41" x2="262.20" y2="372.41" stroke="#eeeeee" stroke-width="0.5" stroke-dasharray="0.8 0.8"/>
<line x1="30.00" y1="368.18" x2="262.20" y2="368.18" stroke="#eeeeee" stroke-width="0.5" stroke-dasharray="0.8 0.8"/>
<line x1="30.00" y1="359.71" x2="262.20" y2="359.71" stroke="#eeeeee" stroke-width="0.5" stroke-dasharray="0.8 0.8"/>
<line x1="30.00" y1="355.47" x2="262.20" y2="355.47" stroke="#eeeeee" stroke-width="0.5" stroke-dasharray="0.8 0.8"/>
<line x1="30.00" y1="351.24" x2="262.20" y2="351.24" stroke="#eeeeee" stroke-width="0.5" stroke-dasharray="0.8 0.8"/>
<line x1="30.00" y1="347.01" x2="262.20" y2="347.01" stroke="#eeeeee" stroke-width="0.5" stroke-dasharray="0.8 0.8"/>
<line x1="30.00" y1="338.54" x2="262.20" y2="338.54" stroke="#eeeeee" stroke-width="0.5" stroke-dasharray="0.8 0.8"/>
<line x1="30.00" y1="334.30" x2="262.20" y2="334.30" stroke="#eeeeee" stroke-width="0.5" stroke-dasharray="0.8 0.8"/>
<line x1="30.00" y1="330.07" x2="262.20" y2="330.07" stroke="#eeeeee" stroke-width="0.5" stroke-dasharray="0.8 0.8"/>
<line x1="30.00" y1="325.83" x2="262.20" y2="325.83" stroke="#eeeeee" stroke-width="0.5" stroke-dasharray="0.8 0.8"/>
<line x1="59.02" y1="321.60" x2="59.02" y2="395.70" stroke="#eaeaea" stroke-width="0.6"/>
<line x1="88.05" y1="321.60" x2="88.05" y2="395.70" stroke="#eaeaea" stroke-width="0.6"/>
<line x1="117.07" y1="321.60" x2="117.07" y2="395.70" stroke="#eaeaea" stroke-width="0.6"/>
<line x1="146.10" y1="321.60" x2="146.10" y2="395.70" stroke="#eaeaea" stroke-width="0.6"/>
<line x1="175.12" y1="321.60" x2="175.12" y2="395.70" stroke="#eaeaea" stroke-width="0.6"/>
<line x1="204.15" y1="321.60" x2="204.15" y2="395.70" stroke="#eaeaea" stroke-width="0.6"/>
<line x1="233.17" y1="321.60" x2="233.17" y2="395.70" stroke="#eaeaea" stroke-width="0.6"/>
<line x1="30.00" y1="385.11" x2="262.20" y2="385.11" stroke="#eaeaea" stroke-width="0.6"/>
<line x1="30.00" y1="363.94" x2="262.20" y2="363.94" stroke="#eaeaea" stroke-width="0.6"/>
<line x1="30.00" y1="342.77" x2="262.20" y2="342.77" stroke="#eaeaea" stroke-width="0.6"/>
<text transform="translate(30.00,405.10) scale(1,1)" font-size="7.3" letter-spacing="0.25" text-anchor="middle">0</text>
<text transform="translate(59.02,405.10) scale(1,1)" font-size="7.3" letter-spacing="0.25" text-anchor="middle">5</text>
<text transform="translate(88.05,405.10) scale(1,1)" font-size="7.3" letter-spacing="0.25" text-anchor="middle">10</text>
<text transform="translate(117.07,405.10) scale(1,1)" font-size="7.3" letter-spacing="0.25" text-anchor="middle">15</text>
<text transform="translate(146.10,405.10) scale(1,1)" font-size="7.3" letter-spacing="0.25" text-anchor="middle">20</text>
<text transform="translate(175.12,405.10) scale(1,1)" font-size="7.3" letter-spacing="0.25" text-anchor="middle">25</text>
<text transform="translate(204.15,405.10) scale(1,1)" font-size="7.3" letter-spacing="0.25" text-anchor="middle">30</text>
<text transform="translate(233.17,405.10) scale(1,1)" font-size="7.3" letter-spacing="0.25" text-anchor="middle">35</text>
<text transform="translate(262.20,405.10) scale(1,1)" font-size="7.3" letter-spacing="0.25" text-anchor="middle">40</text>
<text transform="translate(27.40,387.31) scale(1,1)" font-size="7.3" letter-spacing="0.25" text-anchor="end">-0.1</text>
<text transform="translate(27.40,366.14) scale(1,1)" font-size="7.3" letter-spacing="0.25" text-anchor="end">0</text>
<text transform="translate(27.40,344.97) scale(1,1)" font-size="7.3" letter-spacing="0.25" text-anchor="end">0.1</text>
<text transform="translate(27.40,323.80) scale(1,1)" font-size="7.3" letter-spacing="0.25" text-anchor="end">0.2</text>
<text x="146.50" y="414.50" font-size="8.6" text-anchor="middle"><tspan font-style="italic">t</tspan> [s]</text>
<text transform="translate(13.20,358.65) rotate(-90)" font-size="8.6" text-anchor="middle"><tspan font-style="italic">δ</tspan><tspan font-size="6.2" dy="1.6">2</tspan><tspan dy="-1.6" font-size="6.2">&#8201;</tspan> [rad]</text>
<line x1="30.00" y1="395.70" x2="30.00" y2="393.50" stroke="#555" stroke-width="0.6"/>
<line x1="30.00" y1="321.60" x2="30.00" y2="323.80" stroke="#555" stroke-width="0.6"/>
<line x1="59.02" y1="395.70" x2="59.02" y2="393.50" stroke="#555" stroke-width="0.6"/>
<line x1="59.02" y1="321.60" x2="59.02" y2="323.80" stroke="#555" stroke-width="0.6"/>
<line x1="88.05" y1="395.70" x2="88.05" y2="393.50" stroke="#555" stroke-width="0.6"/>
<line x1="88.05" y1="321.60" x2="88.05" y2="323.80" stroke="#555" stroke-width="0.6"/>
<line x1="117.07" y1="395.70" x2="117.07" y2="393.50" stroke="#555" stroke-width="0.6"/>
<line x1="117.07" y1="321.60" x2="117.07" y2="323.80" stroke="#555" stroke-width="0.6"/>
<line x1="146.10" y1="395.70" x2="146.10" y2="393.50" stroke="#555" stroke-width="0.6"/>
<line x1="146.10" y1="321.60" x2="146.10" y2="323.80" stroke="#555" stroke-width="0.6"/>
<line x1="175.12" y1="395.70" x2="175.12" y2="393.50" stroke="#555" stroke-width="0.6"/>
<line x1="175.12" y1="321.60" x2="175.12" y2="323.80" stroke="#555" stroke-width="0.6"/>
<line x1="204.15" y1="395.70" x2="204.15" y2="393.50" stroke="#555" stroke-width="0.6"/>
<line x1="204.15" y1="321.60" x2="204.15" y2="323.80" stroke="#555" stroke-width="0.6"/>
<line x1="233.17" y1="395.70" x2="233.17" y2="393.50" stroke="#555" stroke-width="0.6"/>
<line x1="233.17" y1="321.60" x2="233.17" y2="323.80" stroke="#555" stroke-width="0.6"/>
<line x1="262.20" y1="395.70" x2="262.20" y2="393.50" stroke="#555" stroke-width="0.6"/>
<line x1="262.20" y1="321.60" x2="262.20" y2="323.80" stroke="#555" stroke-width="0.6"/>
<line x1="30.00" y1="385.11" x2="32.20" y2="385.11" stroke="#555" stroke-width="0.6"/>
<line x1="262.20" y1="385.11" x2="260.00" y2="385.11" stroke="#555" stroke-width="0.6"/>
<line x1="30.00" y1="363.94" x2="32.20" y2="363.94" stroke="#555" stroke-width="0.6"/>
<line x1="262.20" y1="363.94" x2="260.00" y2="363.94" stroke="#555" stroke-width="0.6"/>
<line x1="30.00" y1="342.77" x2="32.20" y2="342.77" stroke="#555" stroke-width="0.6"/>
<line x1="262.20" y1="342.77" x2="260.00" y2="342.77" stroke="#555" stroke-width="0.6"/>
<line x1="30.00" y1="321.60" x2="32.20" y2="321.60" stroke="#555" stroke-width="0.6"/>
<line x1="262.20" y1="321.60" x2="260.00" y2="321.60" stroke="#555" stroke-width="0.6"/>
<rect x="30.00" y="321.60" width="232.20" height="74.10" fill="none" stroke="#555" stroke-width="0.6"/>
<g clip-path="url(#cc2)">
<polyline points="30.00,366.47 30.58,366.79 31.16,367.27 31.74,367.86 32.32,368.54 32.90,369.31 33.48,370.17 34.06,371.15 34.64,372.25 35.22,373.46 35.80,374.80 36.39,376.30 36.97,377.93 37.55,379.56 38.13,381.09 38.71,382.47 39.29,383.69 39.87,384.77 40.45,385.72 41.03,386.49 41.61,386.93 42.19,386.86 42.77,386.23 43.35,385.04 43.93,383.30 44.51,381.03 45.09,378.34 45.67,375.35 46.25,372.15 46.83,368.86 47.41,365.57 48.00,362.40 48.58,359.44 49.16,356.69 49.74,354.08 50.32,351.56 50.90,349.10 51.48,346.77 52.06,344.65 52.64,342.75 53.22,341.04 53.80,339.49 54.38,338.08 54.96,336.81 55.54,335.65 56.12,334.59 56.70,333.62 57.28,332.74 57.86,331.93 58.44,331.18 59.02,330.49 59.61,329.88 60.19,329.39 60.77,329.02 61.35,328.73 61.93,328.50 62.51,328.31 63.09,328.16 63.67,328.05 64.25,328.00 64.83,328.01 65.41,328.08 65.99,328.21 66.57,328.37 67.15,328.57 67.73,328.79 68.31,329.03 68.89,329.31 69.47,329.63 70.05,329.99 70.63,330.40 71.22,330.83 71.80,331.30 72.38,331.77 72.96,332.26 73.54,332.77 74.12,333.30 74.70,333.86 75.28,334.45 75.86,335.06 76.44,335.68 77.02,336.31 77.60,336.95 78.18,337.58 78.76,338.20 79.34,338.82 79.92,339.44 80.50,340.07 81.08,340.70 81.66,341.33 82.25,341.96 82.83,342.58 83.41,343.20 83.99,343.80 84.57,344.40 85.15,344.99 85.73,345.58 86.31,346.16 86.89,346.74 87.47,347.31 88.05,347.87 88.63,348.42 89.21,348.95 89.79,349.46 90.37,349.96 90.95,350.43 91.53,350.90 92.11,351.35 92.69,351.78 93.27,352.21 93.86,352.63 94.44,353.03 95.02,353.43 95.60,353.82 96.18,354.20 96.76,354.58 97.34,354.95 97.92,355.31 98.50,355.67 99.08,356.02 99.66,356.36 100.24,356.69 100.82,357.00 101.40,357.30 101.98,357.58 102.56,357.85 103.14,358.11 103.72,358.37 104.30,358.61 104.88,358.85 105.47,359.08 106.05,359.31 106.63,359.52 107.21,359.73 107.79,359.92 108.37,360.10 108.95,360.28 109.53,360.44 110.11,360.60 110.69,360.75 111.27,360.89 111.85,361.03 112.43,361.16 113.01,361.29 113.59,361.41 114.17,361.52 114.75,361.64 115.33,361.74 115.91,361.84 116.49,361.94 117.07,362.03 117.66,362.12 118.24,362.21 118.82,362.29 119.40,362.37 119.98,362.45 120.56,362.52 121.14,362.59 121.72,362.66 122.30,362.73 122.88,362.79 123.46,362.85 124.04,362.91 124.62,362.97 125.20,363.02 125.78,363.08 126.36,363.14 126.94,363.19 127.52,363.25 128.10,363.30 128.69,363.36 129.27,363.41 129.85,363.46 130.43,363.51 131.01,363.56 131.59,363.61 132.17,363.65 132.75,363.69 133.33,363.73 133.91,363.77 134.49,363.81 135.07,363.84 135.65,363.87 136.23,363.90 136.81,363.92 137.39,363.94 137.97,363.96 138.55,363.98 139.13,364.00 139.71,364.01 140.29,364.03 140.88,364.05 141.46,364.06 142.04,364.08 142.62,364.09 143.20,364.10 143.78,364.11 144.36,364.12 144.94,364.13 145.52,364.14 146.10,364.15 146.68,364.15 147.26,364.15 147.84,364.15 148.42,364.15 149.00,364.15 149.58,364.15 150.16,364.15 150.74,364.15 151.32,364.15 151.91,364.15 152.49,364.14 153.07,364.14 153.65,364.14 154.23,364.13 154.81,364.13 155.39,364.13 155.97,364.12 156.55,364.12 157.13,364.11 157.71,364.11 158.29,364.10 158.87,364.10 159.45,364.09 160.03,364.09 160.61,364.08 161.19,364.08 161.77,364.07 162.35,364.07 162.93,364.06 163.51,364.06 164.10,364.05 164.68,364.05 165.26,364.04 165.84,364.03 166.42,364.03 167.00,364.02 167.58,364.02 168.16,364.01 168.74,364.01 169.32,364.00 169.90,364.00 170.48,363.99 171.06,363.99 171.64,363.98 172.22,363.98 172.80,363.98 173.38,363.97 173.96,363.97 174.54,363.96 175.12,363.96 175.71,363.96 176.29,363.95 176.87,363.95 177.45,363.95 178.03,363.95 178.61,363.95 179.19,363.94 179.77,363.94 180.35,363.94 180.93,363.94 181.51,363.94 182.09,363.94 182.67,363.94 183.25,363.94 183.83,363.94 184.41,363.94 184.99,363.94 185.57,363.94 186.15,363.94 186.74,363.94 187.32,363.94 187.90,363.94 188.48,363.94 189.06,363.94 189.64,363.94 190.22,363.94 190.80,363.94 191.38,363.94 191.96,363.94 192.54,363.94 193.12,363.94 193.70,363.94 194.28,363.94 194.86,363.94 195.44,363.94 196.02,363.94 196.60,363.94 197.18,363.94 197.76,363.94 198.34,363.94 198.93,363.94 199.51,363.94 200.09,363.94 200.67,363.94 201.25,363.94 201.83,363.94 202.41,363.94 202.99,363.94 203.57,363.94 204.15,363.94 204.73,363.94 205.31,363.94 205.89,363.94 206.47,363.94 207.05,363.94 207.63,363.94 208.21,363.94 208.79,363.94 209.37,363.94 209.95,363.94 210.54,363.94 211.12,363.94 211.70,363.94 212.28,363.94 212.86,363.94 213.44,363.94 214.02,363.94 214.60,363.94 215.18,363.94 215.76,363.94 216.34,363.94 216.92,363.94 217.50,363.94 218.08,363.94 218.66,363.94 219.24,363.94 219.82,363.94 220.40,363.94 220.98,363.94 221.56,363.94 222.15,363.94 222.73,363.94 223.31,363.94 223.89,363.94 224.47,363.94 225.05,363.94 225.63,363.94 226.21,363.94 226.79,363.94 227.37,363.94 227.95,363.94 228.53,363.94 229.11,363.94 229.69,363.94 230.27,363.94 230.85,363.94 231.43,363.94 232.01,363.94 232.59,363.94 233.17,363.94 233.76,363.94 234.34,363.94 234.92,363.94 235.50,363.94 236.08,363.94 236.66,363.94 237.24,363.94 237.82,363.94 238.40,363.94 238.98,363.94 239.56,363.94 240.14,363.94 240.72,363.94 241.30,363.94 241.88,363.94 242.46,363.94 243.04,363.94 243.62,363.94 244.20,363.94 244.78,363.94 245.37,363.94 245.95,363.94 246.53,363.94 247.11,363.94 247.69,363.94 248.27,363.94 248.85,363.94 249.43,363.94 250.01,363.94 250.59,363.94 251.17,363.94 251.75,363.94 252.33,363.94 252.91,363.94 253.49,363.94 254.07,363.94 254.65,363.94 255.23,363.94 255.81,363.94 256.39,363.94 256.98,363.94 257.56,363.94 258.14,363.94 258.72,363.94 259.30,363.94 259.88,363.94 260.46,363.94 261.04,363.94 261.62,363.94 262.20,363.94" fill="none" stroke="#0072bd" stroke-width="1.6" stroke-linejoin="round" />
</g>
<text class="cap" y="216.5" font-size="9.4"><tspan x="54.4" textLength="99.8" lengthAdjust="spacingAndGlyphs">(<tspan font-weight="bold">a</tspan>) Trajectory tracking in</tspan><tspan x="157.2" font-style="italic">x</tspan><tspan x="162.2" dy="1.9" font-size="7.6" font-style="italic">G</tspan><tspan x="171.0" dy="-1.9" textLength="5.6" lengthAdjust="spacingAndGlyphs">−</tspan><tspan x="179.6" font-style="italic">y</tspan><tspan x="184.2" dy="1.9" font-size="7.6" font-style="italic">G</tspan><tspan x="194.4" dy="-1.9" textLength="24" lengthAdjust="spacingAndGlyphs">plane.</tspan></text>
<text class="cap" x="343" y="215.6" font-size="9.4" textLength="145" lengthAdjust="spacingAndGlyphs">(<tspan font-weight="bold">b</tspan>) Positions and orientation angle.</text>
<text class="cap" x="99.3" y="432.6" font-size="9.4" textLength="76" lengthAdjust="spacingAndGlyphs">(<tspan font-weight="bold">c</tspan>) Steering angles.</text>
</svg></body></html>
